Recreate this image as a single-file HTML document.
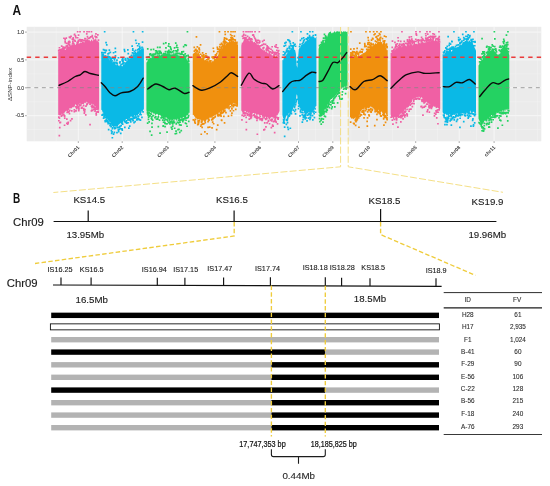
<!DOCTYPE html>
<html><head><meta charset="utf-8"><title>Figure</title>
<style>
html,body{margin:0;padding:0;background:#fff;}
svg{display:block;font-family:"Liberation Sans",sans-serif;}
</style></head><body>
<svg width="550" height="486" viewBox="0 0 550 486">
<rect width="550" height="486" fill="#fff"/>
<text x="12.6" y="14.9" font-size="14" font-weight="bold" fill="#111" textLength="8.6" lengthAdjust="spacingAndGlyphs">A</text>
<rect x="26.7" y="26.8" width="514.6" height="114.5" fill="#ebebeb"/>
<path d="M26.7 32.1H541.3 M26.7 59.9H541.3 M26.7 87.8H541.3 M26.7 115.7H541.3" stroke="#fff" stroke-width="0.6" fill="none"/>
<path d="M26.7 46.0H541.3 M26.7 73.9H541.3 M26.7 101.7H541.3 M26.7 129.6H541.3" stroke="#f6f6f6" stroke-width="0.35" fill="none"/>
<path d="M78.3 26.8V141.3 M122.2 26.8V141.3 M167.8 26.8V141.3 M214.9 26.8V141.3 M259.9 26.8V141.3 M298.5 26.8V141.3 M332.8 26.8V141.3 M369 26.8V141.3 M415.7 26.8V141.3 M459.2 26.8V141.3 M494.1 26.8V141.3" stroke="#fff" stroke-width="0.6" fill="none"/>
<path d="M100.2 26.8V141.3 M145.0 26.8V141.3 M191.4 26.8V141.3 M237.4 26.8V141.3 M279.2 26.8V141.3 M315.6 26.8V141.3 M350.9 26.8V141.3 M392.4 26.8V141.3 M437.4 26.8V141.3 M476.6 26.8V141.3 M56.3 26.8V141.3 M34.3 26.8V141.3 M515.8 26.8V141.3 M537.5 26.8V141.3" stroke="#f7f7f7" stroke-width="0.35" fill="none"/>
<rect x="341" y="27" width="7.2" height="114.3" fill="#fff" opacity="0.45"/>
<path d="M58.2 50.8 L58.9 51.7 L59.6 51.1 L60.3 49.4 L61.0 49.2 L61.7 49.1 L62.4 49.9 L63.1 48.5 L63.8 49.7 L64.5 49.1 L65.3 50.0 L66.0 49.2 L66.7 46.5 L67.4 46.6 L68.1 45.8 L68.8 47.0 L69.5 46.3 L70.2 44.4 L70.9 46.0 L71.6 44.5 L72.3 44.6 L73.0 45.3 L73.7 43.3 L74.4 44.0 L75.1 44.4 L75.8 45.0 L76.5 43.0 L77.2 41.9 L77.9 41.3 L78.7 43.4 L79.4 43.5 L80.1 42.8 L80.8 42.4 L81.5 43.1 L82.2 41.8 L82.9 40.3 L83.6 42.1 L84.3 42.5 L85.0 41.0 L85.7 39.8 L86.4 40.1 L87.1 39.6 L87.8 39.7 L88.5 40.5 L89.2 39.4 L89.9 40.7 L90.6 41.5 L91.3 39.6 L92.0 39.7 L92.8 41.5 L93.5 38.9 L94.2 38.9 L94.9 39.9 L95.6 37.9 L96.3 39.2 L97.0 41.5 L97.7 40.6 L98.4 41.6 L99.1 42.7 L99.1 112.5 L98.4 109.4 L97.7 110.3 L97.0 109.7 L96.3 108.4 L95.6 107.1 L94.9 105.7 L94.2 105.9 L93.5 104.6 L92.8 103.8 L92.0 105.6 L91.3 103.6 L90.6 104.7 L89.9 104.6 L89.2 103.0 L88.5 104.2 L87.8 102.0 L87.1 103.5 L86.4 101.5 L85.7 102.7 L85.0 103.5 L84.3 102.4 L83.6 104.7 L82.9 103.9 L82.2 103.9 L81.5 104.9 L80.8 103.5 L80.1 104.2 L79.4 103.6 L78.7 104.6 L77.9 105.2 L77.2 104.8 L76.5 105.9 L75.8 104.1 L75.1 104.9 L74.4 107.2 L73.7 106.8 L73.0 107.7 L72.3 107.0 L71.6 108.4 L70.9 108.4 L70.2 108.3 L69.5 108.3 L68.8 109.9 L68.1 111.1 L67.4 112.3 L66.7 110.6 L66.0 111.6 L65.3 111.2 L64.5 112.7 L63.8 114.9 L63.1 113.0 L62.4 115.4 L61.7 113.4 L61.0 114.9 L60.3 115.5 L59.6 115.4 L58.9 114.8 L58.2 115.4Z" fill="#f060a4"/>
<path d="M92.7 106.6h1.7v1.7h-1.7zM73.8 39.6h1.7v1.7h-1.7zM60.3 48.7h1.7v1.7h-1.7zM64.3 47.1h1.7v1.7h-1.7zM57.9 49.7h1.7v1.7h-1.7zM72.4 36.9h1.7v1.7h-1.7zM82.4 39.6h1.7v1.7h-1.7zM71.7 43.0h1.7v1.7h-1.7zM91.7 106.2h1.7v1.7h-1.7zM77.2 41.2h1.7v1.7h-1.7zM71.5 38.2h1.7v1.7h-1.7zM64.3 38.2h1.7v1.7h-1.7zM78.9 38.7h1.7v1.7h-1.7zM58.9 126.8h1.7v1.7h-1.7zM92.3 105.7h1.7v1.7h-1.7zM72.5 38.6h1.7v1.7h-1.7zM79.1 104.7h1.7v1.7h-1.7zM66.7 123.3h1.7v1.7h-1.7zM91.9 109.6h1.7v1.7h-1.7zM87.4 37.4h1.7v1.7h-1.7zM72.0 43.1h1.7v1.7h-1.7zM69.0 41.2h1.7v1.7h-1.7zM97.3 111.4h1.7v1.7h-1.7zM66.6 45.2h1.7v1.7h-1.7zM66.0 118.2h1.7v1.7h-1.7zM91.4 35.7h1.7v1.7h-1.7zM89.8 36.0h1.7v1.7h-1.7zM94.2 110.3h1.7v1.7h-1.7zM76.9 36.9h1.7v1.7h-1.7zM71.1 118.1h1.7v1.7h-1.7zM73.6 33.9h1.7v1.7h-1.7zM86.8 39.3h1.7v1.7h-1.7zM63.9 117.4h1.7v1.7h-1.7zM63.7 124.4h1.7v1.7h-1.7zM84.1 37.8h1.7v1.7h-1.7zM63.1 37.4h1.7v1.7h-1.7zM83.8 110.7h1.7v1.7h-1.7zM75.2 110.1h1.7v1.7h-1.7zM66.3 45.0h1.7v1.7h-1.7zM67.4 111.1h1.7v1.7h-1.7zM74.6 35.1h1.7v1.7h-1.7zM72.0 40.6h1.7v1.7h-1.7zM77.9 106.1h1.7v1.7h-1.7zM58.6 49.2h1.7v1.7h-1.7zM58.0 116.3h1.7v1.7h-1.7zM76.7 106.7h1.7v1.7h-1.7zM70.9 110.1h1.7v1.7h-1.7zM89.1 36.9h1.7v1.7h-1.7zM67.8 40.9h1.7v1.7h-1.7zM78.1 108.1h1.7v1.7h-1.7zM94.3 35.5h1.7v1.7h-1.7zM78.0 107.4h1.7v1.7h-1.7zM75.9 106.5h1.7v1.7h-1.7zM95.4 114.0h1.7v1.7h-1.7zM95.4 35.9h1.7v1.7h-1.7zM95.5 108.3h1.7v1.7h-1.7zM62.7 48.0h1.7v1.7h-1.7zM67.5 42.2h1.7v1.7h-1.7zM89.1 103.4h1.7v1.7h-1.7zM86.4 102.7h1.7v1.7h-1.7zM93.1 106.1h1.7v1.7h-1.7zM95.9 36.6h1.7v1.7h-1.7zM97.3 110.7h1.7v1.7h-1.7zM75.1 106.1h1.7v1.7h-1.7zM65.7 42.6h1.7v1.7h-1.7zM58.6 117.2h1.7v1.7h-1.7zM58.6 46.9h1.7v1.7h-1.7zM89.3 103.3h1.7v1.7h-1.7zM68.4 40.5h1.7v1.7h-1.7zM68.6 43.3h1.7v1.7h-1.7zM94.2 107.1h1.7v1.7h-1.7zM63.8 115.1h1.7v1.7h-1.7zM85.8 39.7h1.7v1.7h-1.7zM85.3 39.7h1.7v1.7h-1.7zM95.3 112.4h1.7v1.7h-1.7zM61.2 114.3h1.7v1.7h-1.7zM92.3 37.5h1.7v1.7h-1.7zM79.9 104.2h1.7v1.7h-1.7zM63.0 113.9h1.7v1.7h-1.7zM62.2 48.4h1.7v1.7h-1.7zM65.9 45.2h1.7v1.7h-1.7zM88.2 37.4h1.7v1.7h-1.7zM64.9 46.8h1.7v1.7h-1.7zM67.8 41.3h1.7v1.7h-1.7zM79.8 38.9h1.7v1.7h-1.7zM95.1 33.0h1.7v1.7h-1.7zM75.1 36.8h1.7v1.7h-1.7zM73.5 109.1h1.7v1.7h-1.7zM97.0 34.1h1.7v1.7h-1.7zM86.0 103.7h1.7v1.7h-1.7zM71.7 42.9h1.7v1.7h-1.7zM60.7 115.3h1.7v1.7h-1.7zM64.4 41.7h1.7v1.7h-1.7zM92.6 106.0h1.7v1.7h-1.7zM67.5 43.6h1.7v1.7h-1.7zM64.1 46.4h1.7v1.7h-1.7zM96.2 111.1h1.7v1.7h-1.7zM67.6 111.2h1.7v1.7h-1.7zM72.1 41.7h1.7v1.7h-1.7zM76.8 104.9h1.7v1.7h-1.7zM78.0 40.3h1.7v1.7h-1.7zM61.4 48.9h1.7v1.7h-1.7zM58.7 49.0h1.7v1.7h-1.7zM81.2 107.1h1.7v1.7h-1.7zM84.1 108.8h1.7v1.7h-1.7zM63.8 115.6h1.7v1.7h-1.7zM59.6 121.6h1.7v1.7h-1.7zM82.9 107.7h1.7v1.7h-1.7zM63.4 114.9h1.7v1.7h-1.7zM91.2 109.2h1.7v1.7h-1.7zM81.2 106.4h1.7v1.7h-1.7zM85.5 39.8h1.7v1.7h-1.7zM63.2 47.6h1.7v1.7h-1.7zM91.2 106.9h1.7v1.7h-1.7zM82.8 104.7h1.7v1.7h-1.7zM58.0 119.9h1.7v1.7h-1.7zM77.9 107.1h1.7v1.7h-1.7zM60.5 115.4h1.7v1.7h-1.7zM60.8 45.3h1.7v1.7h-1.7zM66.0 122.4h1.7v1.7h-1.7zM77.6 39.4h1.7v1.7h-1.7zM85.1 105.2h1.7v1.7h-1.7zM83.5 39.8h1.7v1.7h-1.7zM68.0 110.9h1.7v1.7h-1.7zM80.5 40.6h1.7v1.7h-1.7zM68.6 112.9h1.7v1.7h-1.7zM84.8 37.9h1.7v1.7h-1.7zM76.4 41.4h1.7v1.7h-1.7zM95.2 36.3h1.7v1.7h-1.7zM90.6 105.3h1.7v1.7h-1.7zM68.6 36.2h1.7v1.7h-1.7zM66.3 111.5h1.7v1.7h-1.7zM78.8 104.0h1.7v1.7h-1.7zM90.6 110.0h1.7v1.7h-1.7zM85.9 33.0h1.7v1.7h-1.7zM77.2 41.4h1.7v1.7h-1.7zM77.5 40.3h1.7v1.7h-1.7zM63.5 46.6h1.7v1.7h-1.7zM91.4 34.7h1.7v1.7h-1.7zM86.3 103.2h1.7v1.7h-1.7zM81.4 38.9h1.7v1.7h-1.7zM68.8 44.5h1.7v1.7h-1.7zM67.8 43.2h1.7v1.7h-1.7zM65.4 37.2h1.7v1.7h-1.7zM93.1 108.4h1.7v1.7h-1.7zM94.3 108.7h1.7v1.7h-1.7zM86.6 35.8h1.7v1.7h-1.7zM75.8 107.7h1.7v1.7h-1.7zM69.3 36.7h1.7v1.7h-1.7zM62.9 46.8h1.7v1.7h-1.7zM69.7 119.7h1.7v1.7h-1.7zM68.2 110.7h1.7v1.7h-1.7zM80.1 40.3h1.7v1.7h-1.7zM64.3 40.2h1.7v1.7h-1.7zM77.7 34.2h1.7v1.7h-1.7zM97.6 39.3h1.7v1.7h-1.7zM65.5 45.3h1.7v1.7h-1.7zM61.5 48.1h1.7v1.7h-1.7zM80.6 107.2h1.7v1.7h-1.7zM74.3 40.2h1.7v1.7h-1.7zM72.9 42.7h1.7v1.7h-1.7zM68.9 109.5h1.7v1.7h-1.7zM77.9 109.8h1.7v1.7h-1.7zM66.5 45.1h1.7v1.7h-1.7zM73.8 33.4h1.7v1.7h-1.7zM91.7 104.4h1.7v1.7h-1.7zM59.1 121.9h1.7v1.7h-1.7zM76.7 104.3h1.7v1.7h-1.7zM73.5 110.9h1.7v1.7h-1.7zM92.0 105.4h1.7v1.7h-1.7zM62.2 46.3h1.7v1.7h-1.7zM84.9 114.1h1.7v1.7h-1.7zM83.5 112.2h1.7v1.7h-1.7zM67.4 121.4h1.7v1.7h-1.7zM70.2 35.6h1.7v1.7h-1.7zM83.1 109.6h1.7v1.7h-1.7zM76.8 30.9h1.7v1.7h-1.7zM79.2 30.9h1.7v1.7h-1.7zM83.2 30.9h1.7v1.7h-1.7zM86.2 30.9h1.7v1.7h-1.7zM88.2 30.9h1.7v1.7h-1.7zM90.6 30.9h1.7v1.7h-1.7z" fill="#f060a4"/>
<path d="M101.3 52.0 L102.0 53.9 L102.7 53.1 L103.4 52.7 L104.1 54.4 L104.8 55.4 L105.6 55.1 L106.3 54.9 L107.0 57.0 L107.7 55.6 L108.4 58.4 L109.1 57.7 L109.8 60.6 L110.5 58.4 L111.2 60.4 L112.0 60.4 L112.7 62.6 L113.4 61.3 L114.1 62.0 L114.8 62.2 L115.5 64.3 L116.2 65.4 L116.9 63.4 L117.6 64.3 L118.3 66.2 L119.0 64.6 L119.8 66.6 L120.5 63.8 L121.2 65.0 L121.9 66.2 L122.6 66.2 L123.3 63.7 L124.0 65.3 L124.7 62.0 L125.4 62.6 L126.2 61.7 L126.9 59.9 L127.6 60.4 L128.3 58.9 L129.0 58.5 L129.7 59.7 L130.4 57.8 L131.1 57.2 L131.8 57.9 L132.5 55.4 L133.2 53.6 L134.0 55.4 L134.7 52.3 L135.4 51.7 L136.1 51.8 L136.8 53.2 L137.5 50.7 L138.2 51.2 L138.9 50.9 L139.6 49.0 L140.3 50.0 L141.1 49.2 L141.8 46.9 L142.5 47.9 L143.2 49.0 L143.9 46.6 L143.9 109.4 L143.2 109.6 L142.5 112.2 L141.8 110.7 L141.1 113.7 L140.3 114.4 L139.6 112.3 L138.9 114.0 L138.2 114.1 L137.5 116.6 L136.8 114.9 L136.1 116.5 L135.4 117.3 L134.7 114.7 L134.0 117.3 L133.2 116.5 L132.5 118.3 L131.8 116.3 L131.1 117.1 L130.4 116.5 L129.7 119.3 L129.0 118.1 L128.3 120.4 L127.6 120.8 L126.9 119.0 L126.2 119.0 L125.4 120.0 L124.7 121.3 L124.0 121.9 L123.3 120.4 L122.6 123.4 L121.9 123.5 L121.2 124.7 L120.5 122.7 L119.8 123.7 L119.0 124.6 L118.3 124.9 L117.6 127.0 L116.9 126.1 L116.2 127.4 L115.5 126.6 L114.8 125.9 L114.1 127.3 L113.4 127.4 L112.7 125.3 L112.0 125.5 L111.2 124.4 L110.5 122.6 L109.8 121.5 L109.1 122.2 L108.4 120.6 L107.7 120.0 L107.0 118.5 L106.3 119.7 L105.6 116.5 L104.8 117.5 L104.1 116.3 L103.4 112.8 L102.7 112.4 L102.0 110.3 L101.3 109.7Z" fill="#0ab9e6"/>
<path d="M121.5 122.4h1.7v1.7h-1.7zM134.3 120.8h1.7v1.7h-1.7zM133.1 117.2h1.7v1.7h-1.7zM114.2 57.4h1.7v1.7h-1.7zM104.2 49.6h1.7v1.7h-1.7zM111.2 60.1h1.7v1.7h-1.7zM123.9 50.5h1.7v1.7h-1.7zM137.7 115.2h1.7v1.7h-1.7zM104.4 51.8h1.7v1.7h-1.7zM130.5 55.0h1.7v1.7h-1.7zM118.3 128.4h1.7v1.7h-1.7zM132.1 119.7h1.7v1.7h-1.7zM106.0 119.5h1.7v1.7h-1.7zM124.5 57.7h1.7v1.7h-1.7zM109.2 57.4h1.7v1.7h-1.7zM107.3 122.7h1.7v1.7h-1.7zM114.5 47.5h1.7v1.7h-1.7zM122.1 58.2h1.7v1.7h-1.7zM128.1 118.5h1.7v1.7h-1.7zM120.7 128.1h1.7v1.7h-1.7zM139.0 47.2h1.7v1.7h-1.7zM105.9 44.1h1.7v1.7h-1.7zM125.2 121.0h1.7v1.7h-1.7zM137.0 49.0h1.7v1.7h-1.7zM133.3 116.3h1.7v1.7h-1.7zM125.7 120.1h1.7v1.7h-1.7zM116.3 62.5h1.7v1.7h-1.7zM111.6 127.7h1.7v1.7h-1.7zM109.4 57.2h1.7v1.7h-1.7zM129.2 56.0h1.7v1.7h-1.7zM109.4 124.8h1.7v1.7h-1.7zM103.6 51.9h1.7v1.7h-1.7zM123.8 120.6h1.7v1.7h-1.7zM107.8 122.2h1.7v1.7h-1.7zM112.7 51.9h1.7v1.7h-1.7zM113.9 127.7h1.7v1.7h-1.7zM116.1 59.2h1.7v1.7h-1.7zM109.4 51.5h1.7v1.7h-1.7zM118.6 126.3h1.7v1.7h-1.7zM137.7 48.8h1.7v1.7h-1.7zM101.6 114.1h1.7v1.7h-1.7zM138.8 45.5h1.7v1.7h-1.7zM116.4 126.8h1.7v1.7h-1.7zM112.7 133.3h1.7v1.7h-1.7zM105.5 49.6h1.7v1.7h-1.7zM141.2 46.6h1.7v1.7h-1.7zM140.2 113.9h1.7v1.7h-1.7zM103.2 115.7h1.7v1.7h-1.7zM138.6 118.9h1.7v1.7h-1.7zM107.6 121.2h1.7v1.7h-1.7zM117.8 130.7h1.7v1.7h-1.7zM108.6 56.0h1.7v1.7h-1.7zM122.5 62.6h1.7v1.7h-1.7zM111.2 131.1h1.7v1.7h-1.7zM102.7 117.4h1.7v1.7h-1.7zM102.5 113.3h1.7v1.7h-1.7zM125.9 122.2h1.7v1.7h-1.7zM113.7 59.1h1.7v1.7h-1.7zM118.7 126.4h1.7v1.7h-1.7zM119.2 61.0h1.7v1.7h-1.7zM121.3 59.2h1.7v1.7h-1.7zM133.4 52.3h1.7v1.7h-1.7zM120.6 63.5h1.7v1.7h-1.7zM118.9 62.1h1.7v1.7h-1.7zM122.2 60.1h1.7v1.7h-1.7zM104.4 120.9h1.7v1.7h-1.7zM122.2 61.0h1.7v1.7h-1.7zM116.7 126.6h1.7v1.7h-1.7zM136.6 118.7h1.7v1.7h-1.7zM134.9 39.6h1.7v1.7h-1.7zM121.4 129.3h1.7v1.7h-1.7zM107.8 128.7h1.7v1.7h-1.7zM103.7 49.3h1.7v1.7h-1.7zM107.6 121.4h1.7v1.7h-1.7zM134.9 49.5h1.7v1.7h-1.7zM139.2 47.2h1.7v1.7h-1.7zM122.0 63.1h1.7v1.7h-1.7zM108.5 49.3h1.7v1.7h-1.7zM129.2 118.2h1.7v1.7h-1.7zM133.6 50.4h1.7v1.7h-1.7zM127.4 52.7h1.7v1.7h-1.7zM124.0 126.6h1.7v1.7h-1.7zM105.3 120.6h1.7v1.7h-1.7zM117.4 126.6h1.7v1.7h-1.7zM142.2 111.0h1.7v1.7h-1.7zM132.8 53.0h1.7v1.7h-1.7zM131.9 49.3h1.7v1.7h-1.7zM111.5 136.9h1.7v1.7h-1.7zM125.3 120.7h1.7v1.7h-1.7zM101.0 51.8h1.7v1.7h-1.7zM126.6 57.6h1.7v1.7h-1.7zM138.2 48.1h1.7v1.7h-1.7zM128.1 58.2h1.7v1.7h-1.7zM115.7 61.6h1.7v1.7h-1.7zM110.3 125.9h1.7v1.7h-1.7zM109.4 124.4h1.7v1.7h-1.7zM106.6 120.0h1.7v1.7h-1.7zM107.2 53.1h1.7v1.7h-1.7zM137.2 116.1h1.7v1.7h-1.7zM111.9 57.5h1.7v1.7h-1.7zM124.3 58.8h1.7v1.7h-1.7zM119.4 127.9h1.7v1.7h-1.7zM111.3 124.4h1.7v1.7h-1.7zM123.1 61.9h1.7v1.7h-1.7zM103.4 114.6h1.7v1.7h-1.7zM123.9 120.8h1.7v1.7h-1.7zM109.2 124.4h1.7v1.7h-1.7zM127.6 119.0h1.7v1.7h-1.7zM113.8 61.6h1.7v1.7h-1.7zM137.9 118.0h1.7v1.7h-1.7zM101.2 114.4h1.7v1.7h-1.7zM120.3 124.8h1.7v1.7h-1.7zM110.3 58.6h1.7v1.7h-1.7zM102.6 48.8h1.7v1.7h-1.7zM129.9 121.0h1.7v1.7h-1.7zM112.0 126.7h1.7v1.7h-1.7zM133.7 116.7h1.7v1.7h-1.7zM127.7 119.1h1.7v1.7h-1.7zM137.6 48.5h1.7v1.7h-1.7zM110.8 132.5h1.7v1.7h-1.7zM132.0 47.9h1.7v1.7h-1.7zM114.6 55.1h1.7v1.7h-1.7zM127.2 121.9h1.7v1.7h-1.7zM141.7 41.2h1.7v1.7h-1.7zM130.0 119.0h1.7v1.7h-1.7zM131.1 117.9h1.7v1.7h-1.7zM109.8 123.0h1.7v1.7h-1.7zM138.8 48.3h1.7v1.7h-1.7zM105.4 119.0h1.7v1.7h-1.7zM106.9 55.7h1.7v1.7h-1.7zM129.8 120.9h1.7v1.7h-1.7zM131.6 52.0h1.7v1.7h-1.7zM116.1 131.7h1.7v1.7h-1.7zM138.0 43.0h1.7v1.7h-1.7zM139.0 113.6h1.7v1.7h-1.7zM109.5 58.4h1.7v1.7h-1.7zM136.2 117.9h1.7v1.7h-1.7zM135.3 116.2h1.7v1.7h-1.7zM105.1 49.9h1.7v1.7h-1.7zM109.5 56.8h1.7v1.7h-1.7zM101.8 51.7h1.7v1.7h-1.7zM130.7 54.4h1.7v1.7h-1.7zM141.1 116.6h1.7v1.7h-1.7zM126.7 58.0h1.7v1.7h-1.7zM119.1 125.5h1.7v1.7h-1.7zM130.3 117.8h1.7v1.7h-1.7zM136.8 44.9h1.7v1.7h-1.7zM108.0 56.4h1.7v1.7h-1.7zM132.7 116.2h1.7v1.7h-1.7zM121.4 58.8h1.7v1.7h-1.7zM108.6 56.3h1.7v1.7h-1.7zM135.6 42.4h1.7v1.7h-1.7zM112.8 57.5h1.7v1.7h-1.7zM121.7 60.3h1.7v1.7h-1.7zM104.3 119.9h1.7v1.7h-1.7zM133.7 117.1h1.7v1.7h-1.7zM117.6 56.9h1.7v1.7h-1.7zM104.5 116.7h1.7v1.7h-1.7zM109.5 51.6h1.7v1.7h-1.7zM121.8 56.9h1.7v1.7h-1.7zM110.7 57.4h1.7v1.7h-1.7zM132.3 119.4h1.7v1.7h-1.7zM115.4 62.2h1.7v1.7h-1.7zM136.0 119.0h1.7v1.7h-1.7zM108.0 52.5h1.7v1.7h-1.7zM125.0 59.4h1.7v1.7h-1.7zM137.8 48.6h1.7v1.7h-1.7zM113.5 131.6h1.7v1.7h-1.7zM107.4 55.5h1.7v1.7h-1.7zM114.5 127.3h1.7v1.7h-1.7zM114.6 51.1h1.7v1.7h-1.7zM131.3 45.2h1.7v1.7h-1.7zM105.2 41.8h1.7v1.7h-1.7zM134.0 117.4h1.7v1.7h-1.7zM109.1 122.5h1.7v1.7h-1.7zM109.5 58.4h1.7v1.7h-1.7zM117.5 129.1h1.7v1.7h-1.7zM121.8 123.4h1.7v1.7h-1.7zM106.8 121.1h1.7v1.7h-1.7zM131.8 118.2h1.7v1.7h-1.7zM124.8 121.5h1.7v1.7h-1.7zM110.5 129.8h1.7v1.7h-1.7zM133.2 121.8h1.7v1.7h-1.7zM129.2 119.4h1.7v1.7h-1.7zM114.0 126.7h1.7v1.7h-1.7zM118.4 128.6h1.7v1.7h-1.7zM127.0 49.1h1.7v1.7h-1.7zM119.9 132.6h1.7v1.7h-1.7zM128.9 125.3h1.7v1.7h-1.7zM128.0 127.3h1.7v1.7h-1.7zM121.3 128.3h1.7v1.7h-1.7zM123.5 48.7h1.7v1.7h-1.7zM139.6 119.3h1.7v1.7h-1.7zM103.8 30.9h1.7v1.7h-1.7zM132.6 30.9h1.7v1.7h-1.7zM141.8 30.9h1.7v1.7h-1.7z" fill="#0ab9e6"/>
<path d="M146.4 62.6 L147.1 61.9 L147.8 60.2 L148.5 58.4 L149.2 58.8 L149.9 57.7 L150.6 57.7 L151.4 58.2 L152.1 55.0 L152.8 55.8 L153.5 55.6 L154.2 56.3 L154.9 54.7 L155.6 56.1 L156.3 55.2 L157.0 56.0 L157.7 53.9 L158.4 55.6 L159.1 55.0 L159.9 54.6 L160.6 55.8 L161.3 54.6 L162.0 55.0 L162.7 53.2 L163.4 52.5 L164.1 53.1 L164.8 52.7 L165.5 52.6 L166.2 52.4 L166.9 54.1 L167.6 52.6 L168.4 53.3 L169.1 53.8 L169.8 53.0 L170.5 54.5 L171.2 54.4 L171.9 54.3 L172.6 54.5 L173.3 51.8 L174.0 54.8 L174.7 52.6 L175.4 52.4 L176.1 54.6 L176.9 52.8 L177.6 55.0 L178.3 55.5 L179.0 55.3 L179.7 55.8 L180.4 55.8 L181.1 55.5 L181.8 55.9 L182.5 56.5 L183.2 54.8 L183.9 54.9 L184.6 55.2 L185.4 56.0 L186.1 57.7 L186.8 59.4 L187.5 60.4 L188.2 61.0 L188.9 63.3 L189.6 63.1 L189.6 113.1 L188.9 112.4 L188.2 114.8 L187.5 115.5 L186.8 115.1 L186.1 117.0 L185.4 117.0 L184.6 117.2 L183.9 117.5 L183.2 116.8 L182.5 118.1 L181.8 117.9 L181.1 118.4 L180.4 117.5 L179.7 119.6 L179.0 119.5 L178.3 119.6 L177.6 118.5 L176.9 121.2 L176.1 119.7 L175.4 119.6 L174.7 119.3 L174.0 121.1 L173.3 119.0 L172.6 121.0 L171.9 119.4 L171.2 121.9 L170.5 119.2 L169.8 121.9 L169.1 120.6 L168.4 119.5 L167.6 118.8 L166.9 118.4 L166.2 117.1 L165.5 118.1 L164.8 117.6 L164.1 118.8 L163.4 118.4 L162.7 117.1 L162.0 116.5 L161.3 117.3 L160.6 115.4 L159.9 114.7 L159.1 115.3 L158.4 116.2 L157.7 113.8 L157.0 114.5 L156.3 113.8 L155.6 115.9 L154.9 113.4 L154.2 113.7 L153.5 113.7 L152.8 112.2 L152.1 112.9 L151.4 112.8 L150.6 111.7 L149.9 112.1 L149.2 111.2 L148.5 111.4 L147.8 112.4 L147.1 111.0 L146.4 110.7Z" fill="#24d262"/>
<path d="M149.2 115.1h1.7v1.7h-1.7zM147.3 114.5h1.7v1.7h-1.7zM185.4 44.6h1.7v1.7h-1.7zM167.6 45.3h1.7v1.7h-1.7zM147.5 114.1h1.7v1.7h-1.7zM160.3 117.1h1.7v1.7h-1.7zM166.1 123.0h1.7v1.7h-1.7zM154.9 52.3h1.7v1.7h-1.7zM169.4 121.2h1.7v1.7h-1.7zM181.0 51.8h1.7v1.7h-1.7zM157.5 125.8h1.7v1.7h-1.7zM173.7 121.4h1.7v1.7h-1.7zM159.4 50.4h1.7v1.7h-1.7zM172.8 120.3h1.7v1.7h-1.7zM176.5 121.6h1.7v1.7h-1.7zM148.1 56.1h1.7v1.7h-1.7zM154.1 116.7h1.7v1.7h-1.7zM173.8 127.4h1.7v1.7h-1.7zM171.9 123.1h1.7v1.7h-1.7zM175.4 123.1h1.7v1.7h-1.7zM155.0 116.0h1.7v1.7h-1.7zM178.2 52.6h1.7v1.7h-1.7zM147.6 118.6h1.7v1.7h-1.7zM173.7 47.0h1.7v1.7h-1.7zM179.2 119.0h1.7v1.7h-1.7zM158.8 52.1h1.7v1.7h-1.7zM164.2 125.8h1.7v1.7h-1.7zM148.4 111.7h1.7v1.7h-1.7zM151.1 115.7h1.7v1.7h-1.7zM184.8 56.1h1.7v1.7h-1.7zM162.4 125.1h1.7v1.7h-1.7zM187.4 58.1h1.7v1.7h-1.7zM150.4 113.4h1.7v1.7h-1.7zM152.5 54.7h1.7v1.7h-1.7zM174.9 42.2h1.7v1.7h-1.7zM149.8 112.8h1.7v1.7h-1.7zM146.8 111.6h1.7v1.7h-1.7zM177.0 52.7h1.7v1.7h-1.7zM178.7 124.1h1.7v1.7h-1.7zM176.8 49.9h1.7v1.7h-1.7zM176.0 44.5h1.7v1.7h-1.7zM156.8 118.3h1.7v1.7h-1.7zM146.5 56.2h1.7v1.7h-1.7zM180.5 52.6h1.7v1.7h-1.7zM176.8 46.9h1.7v1.7h-1.7zM166.6 50.8h1.7v1.7h-1.7zM170.3 48.8h1.7v1.7h-1.7zM152.2 114.8h1.7v1.7h-1.7zM173.3 121.8h1.7v1.7h-1.7zM162.3 125.4h1.7v1.7h-1.7zM179.2 119.2h1.7v1.7h-1.7zM148.6 115.4h1.7v1.7h-1.7zM181.0 51.1h1.7v1.7h-1.7zM187.3 116.6h1.7v1.7h-1.7zM159.1 46.6h1.7v1.7h-1.7zM161.9 119.3h1.7v1.7h-1.7zM183.9 117.8h1.7v1.7h-1.7zM146.1 58.6h1.7v1.7h-1.7zM170.8 126.7h1.7v1.7h-1.7zM147.8 116.4h1.7v1.7h-1.7zM182.6 118.1h1.7v1.7h-1.7zM182.0 120.8h1.7v1.7h-1.7zM184.6 55.7h1.7v1.7h-1.7zM169.4 120.8h1.7v1.7h-1.7zM177.7 119.5h1.7v1.7h-1.7zM171.7 122.0h1.7v1.7h-1.7zM154.8 49.9h1.7v1.7h-1.7zM179.5 53.2h1.7v1.7h-1.7zM180.1 118.7h1.7v1.7h-1.7zM170.5 126.6h1.7v1.7h-1.7zM168.1 49.5h1.7v1.7h-1.7zM154.0 53.6h1.7v1.7h-1.7zM175.6 50.0h1.7v1.7h-1.7zM163.0 117.6h1.7v1.7h-1.7zM147.9 112.8h1.7v1.7h-1.7zM150.5 117.5h1.7v1.7h-1.7zM152.6 114.8h1.7v1.7h-1.7zM168.0 52.0h1.7v1.7h-1.7zM187.8 114.8h1.7v1.7h-1.7zM170.0 47.6h1.7v1.7h-1.7zM164.0 122.0h1.7v1.7h-1.7zM180.6 118.6h1.7v1.7h-1.7zM147.6 56.6h1.7v1.7h-1.7zM149.6 53.2h1.7v1.7h-1.7zM182.8 45.8h1.7v1.7h-1.7zM184.4 53.1h1.7v1.7h-1.7zM162.8 42.8h1.7v1.7h-1.7zM156.9 117.7h1.7v1.7h-1.7zM186.4 117.1h1.7v1.7h-1.7zM165.0 42.0h1.7v1.7h-1.7zM187.9 60.5h1.7v1.7h-1.7zM156.8 46.6h1.7v1.7h-1.7zM184.2 116.8h1.7v1.7h-1.7zM179.2 121.2h1.7v1.7h-1.7zM187.6 59.7h1.7v1.7h-1.7zM177.9 122.0h1.7v1.7h-1.7zM158.7 119.3h1.7v1.7h-1.7zM150.5 54.5h1.7v1.7h-1.7zM151.3 54.5h1.7v1.7h-1.7zM156.1 50.4h1.7v1.7h-1.7zM146.6 111.3h1.7v1.7h-1.7zM147.6 111.9h1.7v1.7h-1.7zM185.5 122.9h1.7v1.7h-1.7zM151.9 54.6h1.7v1.7h-1.7zM185.2 119.4h1.7v1.7h-1.7zM165.1 47.0h1.7v1.7h-1.7zM166.2 119.1h1.7v1.7h-1.7zM155.4 50.1h1.7v1.7h-1.7zM169.4 46.0h1.7v1.7h-1.7zM157.3 53.0h1.7v1.7h-1.7zM157.5 116.0h1.7v1.7h-1.7zM153.1 53.3h1.7v1.7h-1.7zM184.2 44.1h1.7v1.7h-1.7zM148.4 115.0h1.7v1.7h-1.7zM155.0 53.0h1.7v1.7h-1.7zM156.9 52.2h1.7v1.7h-1.7zM187.9 120.5h1.7v1.7h-1.7zM150.2 48.7h1.7v1.7h-1.7zM148.5 112.7h1.7v1.7h-1.7zM187.3 54.6h1.7v1.7h-1.7zM160.4 52.9h1.7v1.7h-1.7zM181.2 118.2h1.7v1.7h-1.7zM164.4 118.5h1.7v1.7h-1.7zM170.2 51.6h1.7v1.7h-1.7zM178.6 119.0h1.7v1.7h-1.7zM149.4 52.9h1.7v1.7h-1.7zM167.0 51.5h1.7v1.7h-1.7zM171.9 125.2h1.7v1.7h-1.7zM170.6 51.9h1.7v1.7h-1.7zM177.0 49.0h1.7v1.7h-1.7zM148.4 112.9h1.7v1.7h-1.7zM181.6 119.5h1.7v1.7h-1.7zM146.7 112.7h1.7v1.7h-1.7zM182.8 54.1h1.7v1.7h-1.7zM181.1 53.4h1.7v1.7h-1.7zM161.7 116.4h1.7v1.7h-1.7zM168.0 50.0h1.7v1.7h-1.7zM151.1 118.2h1.7v1.7h-1.7zM182.6 50.7h1.7v1.7h-1.7zM162.1 116.8h1.7v1.7h-1.7zM182.9 119.1h1.7v1.7h-1.7zM167.7 121.7h1.7v1.7h-1.7zM146.9 111.6h1.7v1.7h-1.7zM153.7 53.4h1.7v1.7h-1.7zM180.5 53.4h1.7v1.7h-1.7zM175.5 52.4h1.7v1.7h-1.7zM171.3 122.4h1.7v1.7h-1.7zM175.7 46.4h1.7v1.7h-1.7zM176.3 52.3h1.7v1.7h-1.7zM166.9 120.0h1.7v1.7h-1.7zM151.2 54.7h1.7v1.7h-1.7zM171.0 120.6h1.7v1.7h-1.7zM170.2 120.7h1.7v1.7h-1.7zM180.9 119.1h1.7v1.7h-1.7zM163.8 119.7h1.7v1.7h-1.7zM162.7 121.4h1.7v1.7h-1.7zM160.3 51.7h1.7v1.7h-1.7zM164.4 122.7h1.7v1.7h-1.7zM184.6 122.2h1.7v1.7h-1.7zM148.3 121.1h1.7v1.7h-1.7zM185.5 55.0h1.7v1.7h-1.7zM172.7 49.9h1.7v1.7h-1.7zM149.0 53.8h1.7v1.7h-1.7zM146.9 48.1h1.7v1.7h-1.7zM178.8 121.3h1.7v1.7h-1.7zM180.2 124.3h1.7v1.7h-1.7zM147.5 112.1h1.7v1.7h-1.7zM174.7 49.9h1.7v1.7h-1.7zM185.1 117.3h1.7v1.7h-1.7zM168.0 43.1h1.7v1.7h-1.7zM158.2 50.2h1.7v1.7h-1.7zM151.1 122.5h1.7v1.7h-1.7zM167.7 50.3h1.7v1.7h-1.7zM168.6 51.8h1.7v1.7h-1.7zM151.6 53.4h1.7v1.7h-1.7zM158.2 53.1h1.7v1.7h-1.7zM169.1 123.0h1.7v1.7h-1.7zM170.1 120.8h1.7v1.7h-1.7zM176.0 50.2h1.7v1.7h-1.7zM171.9 51.0h1.7v1.7h-1.7zM156.3 51.6h1.7v1.7h-1.7zM162.2 116.7h1.7v1.7h-1.7zM160.9 116.9h1.7v1.7h-1.7zM169.5 51.1h1.7v1.7h-1.7zM187.7 55.9h1.7v1.7h-1.7zM152.7 48.5h1.7v1.7h-1.7zM164.6 50.7h1.7v1.7h-1.7zM164.6 118.2h1.7v1.7h-1.7zM155.6 118.3h1.7v1.7h-1.7zM152.6 53.4h1.7v1.7h-1.7zM174.4 132.9h1.7v1.7h-1.7zM180.4 129.7h1.7v1.7h-1.7zM177.2 128.7h1.7v1.7h-1.7zM178.9 131.6h1.7v1.7h-1.7zM151.8 119.3h1.7v1.7h-1.7zM178.1 128.6h1.7v1.7h-1.7zM186.2 125.4h1.7v1.7h-1.7zM186.6 30.9h1.7v1.7h-1.7z" fill="#24d262"/>
<path d="M192.8 54.3 L193.5 53.4 L194.2 52.4 L194.9 52.8 L195.6 51.3 L196.3 51.4 L197.0 53.4 L197.7 53.1 L198.5 52.8 L199.2 53.4 L199.9 55.5 L200.6 57.2 L201.3 57.5 L202.0 58.5 L202.7 57.3 L203.4 56.5 L204.1 58.9 L204.8 60.6 L205.5 59.8 L206.2 60.2 L206.9 61.1 L207.6 60.5 L208.3 60.9 L209.0 62.4 L209.8 61.0 L210.5 61.7 L211.2 61.8 L211.9 62.5 L212.6 60.3 L213.3 61.5 L214.0 59.5 L214.7 57.5 L215.4 59.2 L216.1 56.8 L216.8 57.1 L217.5 56.0 L218.2 55.3 L218.9 51.9 L219.6 52.0 L220.3 49.9 L221.1 50.2 L221.8 48.3 L222.5 48.3 L223.2 46.7 L223.9 45.4 L224.6 43.6 L225.3 45.4 L226.0 43.9 L226.7 43.0 L227.4 41.9 L228.1 42.4 L228.8 42.2 L229.5 40.4 L230.2 42.2 L230.9 39.9 L231.6 41.1 L232.3 41.2 L233.1 39.2 L233.8 41.3 L234.5 41.7 L235.2 40.8 L235.9 41.5 L236.6 43.9 L237.3 44.4 L238.0 44.0 L238.0 106.8 L237.3 104.9 L236.6 104.4 L235.9 105.8 L235.2 103.4 L234.5 103.4 L233.8 103.2 L233.1 102.7 L232.3 105.7 L231.6 106.2 L230.9 104.6 L230.2 104.9 L229.5 105.5 L228.8 106.8 L228.1 109.1 L227.4 108.5 L226.7 108.7 L226.0 108.1 L225.3 109.9 L224.6 109.5 L223.9 111.3 L223.2 111.9 L222.5 109.9 L221.8 113.3 L221.1 112.4 L220.3 111.4 L219.6 112.8 L218.9 112.6 L218.2 113.4 L217.5 115.7 L216.8 115.1 L216.1 113.7 L215.4 116.4 L214.7 115.1 L214.0 117.0 L213.3 115.8 L212.6 117.0 L211.9 116.8 L211.2 118.4 L210.5 117.6 L209.8 117.4 L209.0 118.3 L208.3 120.1 L207.6 119.5 L206.9 119.3 L206.2 120.2 L205.5 122.2 L204.8 121.9 L204.1 121.5 L203.4 119.9 L202.7 122.5 L202.0 120.0 L201.3 121.8 L200.6 119.9 L199.9 118.9 L199.2 120.2 L198.5 119.1 L197.7 119.3 L197.0 120.1 L196.3 117.9 L195.6 118.2 L194.9 116.8 L194.2 116.2 L193.5 114.8 L192.8 115.3Z" fill="#f0900e"/>
<path d="M218.2 114.5h1.7v1.7h-1.7zM219.9 48.9h1.7v1.7h-1.7zM233.6 104.5h1.7v1.7h-1.7zM232.2 104.9h1.7v1.7h-1.7zM219.1 114.2h1.7v1.7h-1.7zM234.4 39.3h1.7v1.7h-1.7zM224.2 42.2h1.7v1.7h-1.7zM231.1 34.9h1.7v1.7h-1.7zM203.2 56.1h1.7v1.7h-1.7zM200.7 121.4h1.7v1.7h-1.7zM217.3 50.7h1.7v1.7h-1.7zM209.5 60.7h1.7v1.7h-1.7zM197.9 120.7h1.7v1.7h-1.7zM203.3 56.5h1.7v1.7h-1.7zM202.9 53.9h1.7v1.7h-1.7zM207.5 56.5h1.7v1.7h-1.7zM196.5 46.1h1.7v1.7h-1.7zM198.1 47.7h1.7v1.7h-1.7zM228.0 39.4h1.7v1.7h-1.7zM224.4 33.6h1.7v1.7h-1.7zM201.6 122.8h1.7v1.7h-1.7zM202.5 56.4h1.7v1.7h-1.7zM223.7 37.1h1.7v1.7h-1.7zM218.4 50.4h1.7v1.7h-1.7zM219.3 43.7h1.7v1.7h-1.7zM197.9 121.7h1.7v1.7h-1.7zM204.4 121.8h1.7v1.7h-1.7zM221.5 112.1h1.7v1.7h-1.7zM209.7 60.2h1.7v1.7h-1.7zM230.1 36.7h1.7v1.7h-1.7zM197.3 120.5h1.7v1.7h-1.7zM214.6 56.2h1.7v1.7h-1.7zM206.2 59.0h1.7v1.7h-1.7zM224.1 41.9h1.7v1.7h-1.7zM232.6 109.9h1.7v1.7h-1.7zM230.5 38.8h1.7v1.7h-1.7zM193.8 119.8h1.7v1.7h-1.7zM208.0 57.2h1.7v1.7h-1.7zM223.4 38.8h1.7v1.7h-1.7zM208.0 118.5h1.7v1.7h-1.7zM197.5 123.3h1.7v1.7h-1.7zM223.9 43.5h1.7v1.7h-1.7zM199.6 53.4h1.7v1.7h-1.7zM209.3 59.9h1.7v1.7h-1.7zM220.7 42.4h1.7v1.7h-1.7zM217.7 113.9h1.7v1.7h-1.7zM211.7 117.4h1.7v1.7h-1.7zM192.5 119.0h1.7v1.7h-1.7zM205.1 52.9h1.7v1.7h-1.7zM219.3 49.1h1.7v1.7h-1.7zM197.4 119.9h1.7v1.7h-1.7zM232.9 103.6h1.7v1.7h-1.7zM223.2 40.5h1.7v1.7h-1.7zM229.1 39.9h1.7v1.7h-1.7zM223.0 115.5h1.7v1.7h-1.7zM220.2 48.4h1.7v1.7h-1.7zM223.3 42.3h1.7v1.7h-1.7zM233.5 35.2h1.7v1.7h-1.7zM194.4 122.2h1.7v1.7h-1.7zM204.0 131.0h1.7v1.7h-1.7zM220.6 112.3h1.7v1.7h-1.7zM195.1 48.6h1.7v1.7h-1.7zM201.4 55.5h1.7v1.7h-1.7zM223.7 110.6h1.7v1.7h-1.7zM203.1 122.9h1.7v1.7h-1.7zM233.8 38.9h1.7v1.7h-1.7zM231.6 37.1h1.7v1.7h-1.7zM207.2 120.8h1.7v1.7h-1.7zM226.1 38.4h1.7v1.7h-1.7zM218.9 46.1h1.7v1.7h-1.7zM229.2 39.1h1.7v1.7h-1.7zM208.4 60.5h1.7v1.7h-1.7zM204.9 55.0h1.7v1.7h-1.7zM212.3 57.6h1.7v1.7h-1.7zM213.2 57.6h1.7v1.7h-1.7zM195.6 36.1h1.7v1.7h-1.7zM225.6 38.1h1.7v1.7h-1.7zM235.8 104.8h1.7v1.7h-1.7zM214.1 56.4h1.7v1.7h-1.7zM216.5 46.5h1.7v1.7h-1.7zM220.9 119.5h1.7v1.7h-1.7zM221.3 46.1h1.7v1.7h-1.7zM198.6 49.1h1.7v1.7h-1.7zM229.6 39.4h1.7v1.7h-1.7zM220.7 119.2h1.7v1.7h-1.7zM199.9 125.4h1.7v1.7h-1.7zM225.3 41.5h1.7v1.7h-1.7zM228.9 38.9h1.7v1.7h-1.7zM216.8 48.2h1.7v1.7h-1.7zM203.0 54.7h1.7v1.7h-1.7zM220.2 115.3h1.7v1.7h-1.7zM232.5 105.7h1.7v1.7h-1.7zM214.5 55.4h1.7v1.7h-1.7zM218.1 48.2h1.7v1.7h-1.7zM199.7 44.1h1.7v1.7h-1.7zM196.4 49.7h1.7v1.7h-1.7zM200.9 120.4h1.7v1.7h-1.7zM229.6 110.1h1.7v1.7h-1.7zM211.3 56.3h1.7v1.7h-1.7zM215.2 54.4h1.7v1.7h-1.7zM211.8 121.3h1.7v1.7h-1.7zM232.4 38.3h1.7v1.7h-1.7zM212.0 117.3h1.7v1.7h-1.7zM201.1 54.5h1.7v1.7h-1.7zM212.8 122.9h1.7v1.7h-1.7zM230.7 114.6h1.7v1.7h-1.7zM219.8 112.0h1.7v1.7h-1.7zM222.3 111.6h1.7v1.7h-1.7zM217.7 115.0h1.7v1.7h-1.7zM221.1 46.0h1.7v1.7h-1.7zM231.6 38.9h1.7v1.7h-1.7zM222.4 45.3h1.7v1.7h-1.7zM221.6 43.9h1.7v1.7h-1.7zM210.9 119.0h1.7v1.7h-1.7zM210.0 59.9h1.7v1.7h-1.7zM231.8 104.4h1.7v1.7h-1.7zM230.6 39.5h1.7v1.7h-1.7zM215.9 52.7h1.7v1.7h-1.7zM216.9 50.9h1.7v1.7h-1.7zM197.4 121.9h1.7v1.7h-1.7zM196.0 50.8h1.7v1.7h-1.7zM211.9 118.5h1.7v1.7h-1.7zM224.0 109.9h1.7v1.7h-1.7zM236.2 105.0h1.7v1.7h-1.7zM229.1 39.6h1.7v1.7h-1.7zM234.9 108.5h1.7v1.7h-1.7zM198.5 119.8h1.7v1.7h-1.7zM202.9 57.1h1.7v1.7h-1.7zM218.7 49.7h1.7v1.7h-1.7zM223.7 37.4h1.7v1.7h-1.7zM219.9 114.3h1.7v1.7h-1.7zM233.0 103.8h1.7v1.7h-1.7zM225.4 37.7h1.7v1.7h-1.7zM222.5 110.9h1.7v1.7h-1.7zM208.9 126.2h1.7v1.7h-1.7zM224.4 40.4h1.7v1.7h-1.7zM196.9 123.8h1.7v1.7h-1.7zM197.4 122.6h1.7v1.7h-1.7zM203.7 56.0h1.7v1.7h-1.7zM229.5 105.9h1.7v1.7h-1.7zM193.4 46.5h1.7v1.7h-1.7zM200.6 121.3h1.7v1.7h-1.7zM222.8 44.6h1.7v1.7h-1.7zM231.1 108.0h1.7v1.7h-1.7zM228.2 106.5h1.7v1.7h-1.7zM207.6 58.1h1.7v1.7h-1.7zM231.0 104.7h1.7v1.7h-1.7zM200.5 123.7h1.7v1.7h-1.7zM209.8 60.1h1.7v1.7h-1.7zM229.8 33.8h1.7v1.7h-1.7zM219.4 48.5h1.7v1.7h-1.7zM202.0 123.4h1.7v1.7h-1.7zM194.4 49.3h1.7v1.7h-1.7zM213.1 117.0h1.7v1.7h-1.7zM208.1 57.9h1.7v1.7h-1.7zM207.2 58.1h1.7v1.7h-1.7zM236.0 42.3h1.7v1.7h-1.7zM222.1 45.0h1.7v1.7h-1.7zM214.6 53.9h1.7v1.7h-1.7zM215.8 128.7h1.7v1.7h-1.7zM194.0 121.3h1.7v1.7h-1.7zM231.0 107.6h1.7v1.7h-1.7zM220.5 47.1h1.7v1.7h-1.7zM227.6 115.2h1.7v1.7h-1.7zM222.6 41.1h1.7v1.7h-1.7zM225.1 111.7h1.7v1.7h-1.7zM207.9 119.5h1.7v1.7h-1.7zM195.1 49.0h1.7v1.7h-1.7zM236.1 41.5h1.7v1.7h-1.7zM203.2 56.1h1.7v1.7h-1.7zM198.4 47.3h1.7v1.7h-1.7zM212.5 56.1h1.7v1.7h-1.7zM205.8 58.9h1.7v1.7h-1.7zM205.8 55.2h1.7v1.7h-1.7zM216.8 114.8h1.7v1.7h-1.7zM233.2 103.4h1.7v1.7h-1.7zM200.4 133.4h1.7v1.7h-1.7zM208.2 119.4h1.7v1.7h-1.7zM230.8 37.7h1.7v1.7h-1.7zM232.2 38.5h1.7v1.7h-1.7zM193.5 50.3h1.7v1.7h-1.7zM223.6 42.6h1.7v1.7h-1.7zM201.3 126.5h1.7v1.7h-1.7zM221.1 43.3h1.7v1.7h-1.7zM235.0 104.3h1.7v1.7h-1.7zM228.2 107.7h1.7v1.7h-1.7zM198.5 51.2h1.7v1.7h-1.7zM231.1 112.2h1.7v1.7h-1.7zM201.8 52.1h1.7v1.7h-1.7zM221.1 43.8h1.7v1.7h-1.7zM207.4 58.5h1.7v1.7h-1.7zM194.5 118.6h1.7v1.7h-1.7zM214.3 116.0h1.7v1.7h-1.7zM212.9 50.5h1.7v1.7h-1.7zM217.4 113.4h1.7v1.7h-1.7zM219.6 113.1h1.7v1.7h-1.7zM196.6 51.1h1.7v1.7h-1.7zM211.2 127.0h1.7v1.7h-1.7zM216.9 124.3h1.7v1.7h-1.7zM207.2 126.5h1.7v1.7h-1.7zM223.7 122.0h1.7v1.7h-1.7zM206.3 132.9h1.7v1.7h-1.7zM212.5 47.4h1.7v1.7h-1.7zM218.6 30.9h1.7v1.7h-1.7zM224.2 30.9h1.7v1.7h-1.7zM227.2 30.9h1.7v1.7h-1.7zM230.2 30.9h1.7v1.7h-1.7zM232.2 30.9h1.7v1.7h-1.7zM234.2 30.9h1.7v1.7h-1.7z" fill="#f0900e"/>
<path d="M241.3 45.8 L242.0 42.0 L242.7 43.0 L243.4 40.9 L244.1 39.5 L244.8 39.1 L245.5 39.2 L246.3 40.4 L247.0 39.4 L247.7 40.0 L248.4 39.4 L249.1 41.7 L249.8 38.9 L250.5 39.7 L251.2 40.6 L251.9 40.3 L252.6 40.8 L253.3 42.4 L254.0 42.0 L254.7 41.8 L255.4 43.0 L256.2 42.8 L256.9 44.6 L257.6 44.4 L258.3 43.9 L259.0 45.2 L259.7 45.1 L260.4 47.3 L261.1 49.1 L261.8 48.4 L262.5 50.1 L263.2 48.8 L263.9 50.9 L264.6 49.7 L265.4 51.8 L266.1 51.5 L266.8 51.1 L267.5 52.9 L268.2 53.2 L268.9 53.2 L269.6 51.7 L270.3 54.6 L271.0 51.9 L271.7 55.3 L272.4 55.4 L273.1 55.2 L273.8 53.8 L274.5 53.9 L275.3 56.9 L276.0 57.1 L276.7 54.7 L277.4 57.5 L278.1 55.5 L278.8 56.4 L279.5 56.1 L279.5 111.1 L278.8 112.7 L278.1 114.0 L277.4 115.6 L276.7 115.2 L276.0 118.7 L275.3 118.9 L274.5 118.1 L273.8 119.2 L273.1 117.3 L272.4 117.5 L271.7 117.0 L271.0 117.4 L270.3 118.0 L269.6 119.7 L268.9 119.5 L268.2 117.8 L267.5 117.2 L266.8 118.2 L266.1 118.1 L265.4 116.6 L264.6 117.4 L263.9 116.5 L263.2 117.7 L262.5 117.8 L261.8 115.2 L261.1 115.1 L260.4 115.1 L259.7 116.4 L259.0 114.5 L258.3 114.5 L257.6 114.2 L256.9 116.4 L256.2 114.5 L255.4 113.3 L254.7 114.2 L254.0 113.0 L253.3 112.9 L252.6 113.4 L251.9 114.8 L251.2 114.1 L250.5 115.0 L249.8 114.2 L249.1 112.0 L248.4 113.7 L247.7 111.6 L247.0 114.0 L246.3 112.6 L245.5 110.9 L244.8 110.7 L244.1 112.9 L243.4 113.5 L242.7 112.7 L242.0 111.6 L241.3 110.4Z" fill="#f060a4"/>
<path d="M277.8 49.7h1.7v1.7h-1.7zM245.4 38.7h1.7v1.7h-1.7zM256.9 39.4h1.7v1.7h-1.7zM246.5 114.3h1.7v1.7h-1.7zM245.1 37.1h1.7v1.7h-1.7zM275.1 53.9h1.7v1.7h-1.7zM276.9 117.9h1.7v1.7h-1.7zM251.1 38.6h1.7v1.7h-1.7zM243.5 37.0h1.7v1.7h-1.7zM256.1 115.9h1.7v1.7h-1.7zM241.3 114.5h1.7v1.7h-1.7zM261.2 119.5h1.7v1.7h-1.7zM277.5 116.9h1.7v1.7h-1.7zM255.8 40.2h1.7v1.7h-1.7zM277.1 54.2h1.7v1.7h-1.7zM241.1 119.1h1.7v1.7h-1.7zM250.4 114.6h1.7v1.7h-1.7zM249.9 38.9h1.7v1.7h-1.7zM272.3 125.3h1.7v1.7h-1.7zM242.8 112.7h1.7v1.7h-1.7zM265.0 118.5h1.7v1.7h-1.7zM277.1 51.5h1.7v1.7h-1.7zM272.7 120.8h1.7v1.7h-1.7zM278.0 53.1h1.7v1.7h-1.7zM268.6 47.6h1.7v1.7h-1.7zM255.6 117.3h1.7v1.7h-1.7zM266.1 47.2h1.7v1.7h-1.7zM261.2 44.3h1.7v1.7h-1.7zM250.8 115.2h1.7v1.7h-1.7zM267.8 119.8h1.7v1.7h-1.7zM260.6 118.0h1.7v1.7h-1.7zM271.2 52.1h1.7v1.7h-1.7zM271.5 49.8h1.7v1.7h-1.7zM271.7 124.2h1.7v1.7h-1.7zM242.6 34.7h1.7v1.7h-1.7zM271.4 52.3h1.7v1.7h-1.7zM250.3 38.1h1.7v1.7h-1.7zM270.8 120.0h1.7v1.7h-1.7zM266.8 48.5h1.7v1.7h-1.7zM270.6 118.6h1.7v1.7h-1.7zM266.3 48.0h1.7v1.7h-1.7zM249.8 38.0h1.7v1.7h-1.7zM255.1 40.5h1.7v1.7h-1.7zM262.2 47.6h1.7v1.7h-1.7zM267.7 49.7h1.7v1.7h-1.7zM249.9 113.4h1.7v1.7h-1.7zM264.6 117.9h1.7v1.7h-1.7zM256.7 117.5h1.7v1.7h-1.7zM254.8 39.0h1.7v1.7h-1.7zM254.6 115.3h1.7v1.7h-1.7zM256.1 119.5h1.7v1.7h-1.7zM254.1 37.5h1.7v1.7h-1.7zM275.4 44.1h1.7v1.7h-1.7zM267.4 47.5h1.7v1.7h-1.7zM253.2 35.7h1.7v1.7h-1.7zM255.1 116.4h1.7v1.7h-1.7zM274.5 117.7h1.7v1.7h-1.7zM263.0 46.7h1.7v1.7h-1.7zM272.2 51.2h1.7v1.7h-1.7zM274.1 52.1h1.7v1.7h-1.7zM260.0 118.8h1.7v1.7h-1.7zM268.5 51.2h1.7v1.7h-1.7zM266.2 122.0h1.7v1.7h-1.7zM269.6 51.1h1.7v1.7h-1.7zM243.8 112.0h1.7v1.7h-1.7zM244.2 114.3h1.7v1.7h-1.7zM243.0 115.3h1.7v1.7h-1.7zM258.9 41.4h1.7v1.7h-1.7zM256.5 133.4h1.7v1.7h-1.7zM271.3 118.6h1.7v1.7h-1.7zM253.4 114.0h1.7v1.7h-1.7zM277.7 55.0h1.7v1.7h-1.7zM252.6 34.0h1.7v1.7h-1.7zM261.6 117.8h1.7v1.7h-1.7zM242.9 33.6h1.7v1.7h-1.7zM270.8 119.0h1.7v1.7h-1.7zM248.5 36.8h1.7v1.7h-1.7zM254.9 38.8h1.7v1.7h-1.7zM262.7 43.6h1.7v1.7h-1.7zM248.4 115.1h1.7v1.7h-1.7zM242.9 37.3h1.7v1.7h-1.7zM256.2 115.7h1.7v1.7h-1.7zM251.1 114.4h1.7v1.7h-1.7zM267.4 120.5h1.7v1.7h-1.7zM257.9 116.7h1.7v1.7h-1.7zM273.6 52.2h1.7v1.7h-1.7zM264.7 43.5h1.7v1.7h-1.7zM243.6 112.3h1.7v1.7h-1.7zM275.3 121.3h1.7v1.7h-1.7zM259.5 118.7h1.7v1.7h-1.7zM251.9 34.2h1.7v1.7h-1.7zM246.4 112.9h1.7v1.7h-1.7zM244.7 34.5h1.7v1.7h-1.7zM276.3 52.0h1.7v1.7h-1.7zM250.5 116.7h1.7v1.7h-1.7zM246.7 35.6h1.7v1.7h-1.7zM242.5 112.5h1.7v1.7h-1.7zM249.6 114.2h1.7v1.7h-1.7zM261.8 40.5h1.7v1.7h-1.7zM253.0 114.4h1.7v1.7h-1.7zM270.7 119.6h1.7v1.7h-1.7zM242.2 37.6h1.7v1.7h-1.7zM249.3 113.2h1.7v1.7h-1.7zM258.2 116.7h1.7v1.7h-1.7zM266.2 44.9h1.7v1.7h-1.7zM245.5 128.7h1.7v1.7h-1.7zM275.9 116.6h1.7v1.7h-1.7zM253.9 116.1h1.7v1.7h-1.7zM275.5 52.9h1.7v1.7h-1.7zM273.1 120.5h1.7v1.7h-1.7zM244.2 38.2h1.7v1.7h-1.7zM274.2 118.9h1.7v1.7h-1.7zM275.3 52.0h1.7v1.7h-1.7zM276.9 46.9h1.7v1.7h-1.7zM265.4 48.5h1.7v1.7h-1.7zM257.7 39.6h1.7v1.7h-1.7zM247.6 113.6h1.7v1.7h-1.7zM243.5 112.0h1.7v1.7h-1.7zM261.5 118.8h1.7v1.7h-1.7zM258.1 42.0h1.7v1.7h-1.7zM244.6 112.3h1.7v1.7h-1.7zM262.5 46.9h1.7v1.7h-1.7zM265.6 49.3h1.7v1.7h-1.7zM276.0 49.5h1.7v1.7h-1.7zM273.4 53.3h1.7v1.7h-1.7zM244.4 112.2h1.7v1.7h-1.7zM259.4 115.6h1.7v1.7h-1.7zM258.4 42.1h1.7v1.7h-1.7zM259.8 45.1h1.7v1.7h-1.7zM256.0 41.6h1.7v1.7h-1.7zM249.9 115.2h1.7v1.7h-1.7zM274.1 45.5h1.7v1.7h-1.7zM259.1 117.7h1.7v1.7h-1.7zM266.6 46.2h1.7v1.7h-1.7zM246.7 39.1h1.7v1.7h-1.7zM255.6 115.5h1.7v1.7h-1.7zM274.1 51.5h1.7v1.7h-1.7zM249.7 117.6h1.7v1.7h-1.7zM267.4 49.9h1.7v1.7h-1.7zM263.2 116.9h1.7v1.7h-1.7zM263.9 122.1h1.7v1.7h-1.7zM253.7 115.9h1.7v1.7h-1.7zM275.2 46.2h1.7v1.7h-1.7zM256.3 42.0h1.7v1.7h-1.7zM250.1 116.5h1.7v1.7h-1.7zM246.6 38.7h1.7v1.7h-1.7zM248.3 37.9h1.7v1.7h-1.7zM277.3 118.2h1.7v1.7h-1.7zM258.8 40.3h1.7v1.7h-1.7zM274.7 120.3h1.7v1.7h-1.7zM248.4 118.3h1.7v1.7h-1.7zM270.2 48.4h1.7v1.7h-1.7zM266.0 117.9h1.7v1.7h-1.7zM271.8 125.2h1.7v1.7h-1.7zM268.7 122.9h1.7v1.7h-1.7zM262.9 43.3h1.7v1.7h-1.7zM270.1 119.2h1.7v1.7h-1.7zM276.7 123.1h1.7v1.7h-1.7zM245.3 116.6h1.7v1.7h-1.7zM250.3 114.0h1.7v1.7h-1.7zM248.3 38.3h1.7v1.7h-1.7zM259.3 118.7h1.7v1.7h-1.7zM267.4 46.2h1.7v1.7h-1.7zM270.5 126.7h1.7v1.7h-1.7zM271.3 45.9h1.7v1.7h-1.7zM265.1 126.1h1.7v1.7h-1.7zM263.0 129.0h1.7v1.7h-1.7zM241.6 35.4h1.7v1.7h-1.7zM245.5 121.4h1.7v1.7h-1.7zM263.3 39.4h1.7v1.7h-1.7zM242.6 30.9h1.7v1.7h-1.7zM245.2 30.9h1.7v1.7h-1.7zM247.2 30.9h1.7v1.7h-1.7zM249.2 30.9h1.7v1.7h-1.7zM251.2 30.9h1.7v1.7h-1.7zM254.2 30.9h1.7v1.7h-1.7zM258.5 30.9h1.7v1.7h-1.7z" fill="#f060a4"/>
<path d="M282.4 59.5 L283.1 60.5 L283.8 57.6 L284.5 56.4 L285.2 55.8 L285.9 55.7 L286.6 54.1 L287.4 53.3 L288.1 50.3 L288.8 49.4 L289.5 50.4 L290.2 50.1 L290.9 48.4 L291.6 48.1 L292.3 46.7 L293.0 46.3 L293.7 46.4 L294.4 49.9 L295.1 50.0 L295.9 53.7 L296.6 65.6 L297.3 67.7 L298.0 58.4 L298.7 49.4 L299.4 47.9 L300.1 47.8 L300.8 46.1 L301.5 44.5 L302.2 44.7 L302.9 43.5 L303.6 44.3 L304.4 43.1 L305.1 41.5 L305.8 41.6 L306.5 41.0 L307.2 38.3 L307.9 38.1 L308.6 39.9 L309.3 38.5 L310.0 36.4 L310.7 38.3 L311.4 36.5 L312.1 36.2 L312.9 36.2 L313.6 37.0 L314.3 37.3 L315.0 38.4 L315.7 37.8 L316.4 36.3 L316.4 106.0 L315.7 106.2 L315.0 108.7 L314.3 108.8 L313.6 111.0 L312.9 112.3 L312.1 111.6 L311.4 113.0 L310.7 113.1 L310.0 112.4 L309.3 113.1 L308.6 111.9 L307.9 114.6 L307.2 112.7 L306.5 114.2 L305.8 114.7 L305.1 113.4 L304.4 113.5 L303.6 110.8 L302.9 111.1 L302.2 112.1 L301.5 110.2 L300.8 109.8 L300.1 108.0 L299.4 107.4 L298.7 104.2 L298.0 104.7 L297.3 95.4 L296.6 94.3 L295.9 99.5 L295.1 103.9 L294.4 106.4 L293.7 106.8 L293.0 108.7 L292.3 110.3 L291.6 111.6 L290.9 112.2 L290.2 111.5 L289.5 113.2 L288.8 113.1 L288.1 116.5 L287.4 115.1 L286.6 115.6 L285.9 116.8 L285.2 119.5 L284.5 120.5 L283.8 118.7 L283.1 118.0 L282.4 115.1Z" fill="#0ab9e6"/>
<path d="M309.3 113.6h1.7v1.7h-1.7zM286.7 121.7h1.7v1.7h-1.7zM287.4 114.8h1.7v1.7h-1.7zM292.3 45.2h1.7v1.7h-1.7zM294.7 113.1h1.7v1.7h-1.7zM288.2 39.5h1.7v1.7h-1.7zM288.6 46.2h1.7v1.7h-1.7zM285.6 51.1h1.7v1.7h-1.7zM294.8 103.8h1.7v1.7h-1.7zM288.8 114.0h1.7v1.7h-1.7zM309.7 116.8h1.7v1.7h-1.7zM292.4 42.1h1.7v1.7h-1.7zM297.6 107.7h1.7v1.7h-1.7zM306.9 36.7h1.7v1.7h-1.7zM312.3 111.0h1.7v1.7h-1.7zM302.8 37.0h1.7v1.7h-1.7zM283.4 122.3h1.7v1.7h-1.7zM293.7 106.6h1.7v1.7h-1.7zM290.1 44.8h1.7v1.7h-1.7zM306.9 114.3h1.7v1.7h-1.7zM308.7 35.8h1.7v1.7h-1.7zM303.3 115.3h1.7v1.7h-1.7zM304.9 114.5h1.7v1.7h-1.7zM313.1 110.5h1.7v1.7h-1.7zM295.0 101.7h1.7v1.7h-1.7zM288.2 115.4h1.7v1.7h-1.7zM299.2 115.0h1.7v1.7h-1.7zM286.5 50.9h1.7v1.7h-1.7zM295.7 98.7h1.7v1.7h-1.7zM304.1 114.6h1.7v1.7h-1.7zM301.0 37.7h1.7v1.7h-1.7zM308.1 113.0h1.7v1.7h-1.7zM304.2 115.2h1.7v1.7h-1.7zM311.7 114.7h1.7v1.7h-1.7zM309.1 118.6h1.7v1.7h-1.7zM286.4 119.5h1.7v1.7h-1.7zM302.3 41.8h1.7v1.7h-1.7zM302.0 111.9h1.7v1.7h-1.7zM289.1 47.4h1.7v1.7h-1.7zM304.4 118.0h1.7v1.7h-1.7zM293.9 105.4h1.7v1.7h-1.7zM309.7 36.4h1.7v1.7h-1.7zM302.8 40.5h1.7v1.7h-1.7zM284.0 53.0h1.7v1.7h-1.7zM285.7 49.5h1.7v1.7h-1.7zM293.3 44.5h1.7v1.7h-1.7zM289.2 112.2h1.7v1.7h-1.7zM309.8 114.5h1.7v1.7h-1.7zM283.1 119.9h1.7v1.7h-1.7zM298.7 45.8h1.7v1.7h-1.7zM302.8 114.5h1.7v1.7h-1.7zM295.3 100.3h1.7v1.7h-1.7zM289.5 127.4h1.7v1.7h-1.7zM308.6 113.6h1.7v1.7h-1.7zM314.6 33.9h1.7v1.7h-1.7zM286.5 47.7h1.7v1.7h-1.7zM305.4 37.9h1.7v1.7h-1.7zM288.3 47.1h1.7v1.7h-1.7zM288.5 114.9h1.7v1.7h-1.7zM296.5 61.4h1.7v1.7h-1.7zM288.5 45.5h1.7v1.7h-1.7zM305.2 117.1h1.7v1.7h-1.7zM313.3 112.7h1.7v1.7h-1.7zM305.8 38.2h1.7v1.7h-1.7zM282.5 121.8h1.7v1.7h-1.7zM302.8 40.1h1.7v1.7h-1.7zM287.5 128.5h1.7v1.7h-1.7zM292.1 45.6h1.7v1.7h-1.7zM293.8 110.5h1.7v1.7h-1.7zM297.1 56.7h1.7v1.7h-1.7zM287.1 116.6h1.7v1.7h-1.7zM314.7 111.4h1.7v1.7h-1.7zM297.8 105.3h1.7v1.7h-1.7zM285.6 119.0h1.7v1.7h-1.7zM289.0 47.7h1.7v1.7h-1.7zM312.0 119.0h1.7v1.7h-1.7zM294.7 108.7h1.7v1.7h-1.7zM286.5 50.4h1.7v1.7h-1.7zM301.4 42.9h1.7v1.7h-1.7zM309.5 114.1h1.7v1.7h-1.7zM283.5 122.0h1.7v1.7h-1.7zM284.4 51.8h1.7v1.7h-1.7zM288.8 40.7h1.7v1.7h-1.7zM294.7 45.4h1.7v1.7h-1.7zM286.2 49.7h1.7v1.7h-1.7zM301.4 114.1h1.7v1.7h-1.7zM296.6 60.7h1.7v1.7h-1.7zM283.8 54.1h1.7v1.7h-1.7zM304.3 114.0h1.7v1.7h-1.7zM303.5 114.4h1.7v1.7h-1.7zM286.7 118.0h1.7v1.7h-1.7zM284.1 42.2h1.7v1.7h-1.7zM289.6 42.8h1.7v1.7h-1.7zM309.2 116.4h1.7v1.7h-1.7zM283.3 45.3h1.7v1.7h-1.7zM308.5 36.8h1.7v1.7h-1.7zM290.0 111.1h1.7v1.7h-1.7zM304.2 116.2h1.7v1.7h-1.7zM312.4 34.7h1.7v1.7h-1.7zM282.7 118.8h1.7v1.7h-1.7zM314.2 108.1h1.7v1.7h-1.7zM308.7 34.7h1.7v1.7h-1.7zM285.5 123.6h1.7v1.7h-1.7zM300.4 111.5h1.7v1.7h-1.7zM302.5 116.3h1.7v1.7h-1.7zM284.6 52.0h1.7v1.7h-1.7zM291.7 46.4h1.7v1.7h-1.7zM306.6 33.0h1.7v1.7h-1.7zM308.8 36.4h1.7v1.7h-1.7zM303.5 39.1h1.7v1.7h-1.7zM285.7 119.1h1.7v1.7h-1.7zM293.7 43.4h1.7v1.7h-1.7zM310.1 112.5h1.7v1.7h-1.7zM294.2 43.4h1.7v1.7h-1.7zM286.9 126.5h1.7v1.7h-1.7zM307.4 37.5h1.7v1.7h-1.7zM285.8 119.4h1.7v1.7h-1.7zM299.2 43.5h1.7v1.7h-1.7zM302.2 118.7h1.7v1.7h-1.7zM306.2 120.1h1.7v1.7h-1.7zM309.7 112.3h1.7v1.7h-1.7zM304.5 114.8h1.7v1.7h-1.7zM296.6 98.4h1.7v1.7h-1.7zM292.0 45.1h1.7v1.7h-1.7zM285.2 41.5h1.7v1.7h-1.7zM303.6 116.9h1.7v1.7h-1.7zM309.7 116.4h1.7v1.7h-1.7zM291.1 45.1h1.7v1.7h-1.7zM282.7 50.9h1.7v1.7h-1.7zM307.6 117.3h1.7v1.7h-1.7zM299.6 39.5h1.7v1.7h-1.7zM292.4 109.3h1.7v1.7h-1.7zM299.8 109.2h1.7v1.7h-1.7zM299.6 110.7h1.7v1.7h-1.7zM304.8 113.3h1.7v1.7h-1.7zM289.1 40.6h1.7v1.7h-1.7zM282.5 54.0h1.7v1.7h-1.7zM314.7 34.2h1.7v1.7h-1.7zM304.7 117.2h1.7v1.7h-1.7zM306.9 37.2h1.7v1.7h-1.7zM283.0 120.2h1.7v1.7h-1.7zM290.6 112.8h1.7v1.7h-1.7zM301.5 121.2h1.7v1.7h-1.7zM284.7 44.6h1.7v1.7h-1.7zM287.1 39.0h1.7v1.7h-1.7zM313.6 116.7h1.7v1.7h-1.7zM291.5 30.9h1.7v1.7h-1.7zM300.1 30.9h1.7v1.7h-1.7zM309.1 30.9h1.7v1.7h-1.7zM311.8 30.9h1.7v1.7h-1.7z" fill="#0ab9e6"/>
<path d="M318.6 49.1 L319.3 46.2 L320.0 46.3 L320.7 45.6 L321.4 43.7 L322.1 43.8 L322.8 42.1 L323.6 42.0 L324.3 43.0 L325.0 40.2 L325.7 38.9 L326.4 37.5 L327.1 37.5 L327.8 34.8 L328.5 32.9 L329.2 32.2 L329.9 32.1 L330.6 31.3 L331.3 33.0 L332.0 33.4 L332.7 32.6 L333.5 32.8 L334.2 31.5 L334.9 31.3 L335.6 32.8 L336.3 31.5 L337.0 31.3 L337.7 31.3 L338.4 31.5 L339.1 31.8 L339.8 31.3 L340.5 33.0 L341.2 31.3 L341.9 31.3 L342.6 32.6 L343.4 31.3 L344.1 31.3 L344.8 31.7 L345.5 31.3 L346.2 31.8 L346.9 32.1 L347.6 31.3 L347.6 87.4 L346.9 85.5 L346.2 88.5 L345.5 86.9 L344.8 86.4 L344.1 87.1 L343.4 88.1 L342.6 87.2 L341.9 88.6 L341.2 88.8 L340.5 88.8 L339.8 91.0 L339.1 92.5 L338.4 92.6 L337.7 92.6 L337.0 93.0 L336.3 95.7 L335.6 95.1 L334.9 95.9 L334.2 97.5 L333.5 97.4 L332.7 97.7 L332.0 99.1 L331.3 99.1 L330.6 99.6 L329.9 101.3 L329.2 103.8 L328.5 105.9 L327.8 104.3 L327.1 107.0 L326.4 108.1 L325.7 110.1 L325.0 108.4 L324.3 111.7 L323.6 113.3 L322.8 114.2 L322.1 115.1 L321.4 116.4 L320.7 116.1 L320.0 115.4 L319.3 113.6 L318.6 112.6Z" fill="#24d262"/>
<path d="M334.0 106.1h1.7v1.7h-1.7zM325.7 108.8h1.7v1.7h-1.7zM336.5 93.0h1.7v1.7h-1.7zM331.4 101.2h1.7v1.7h-1.7zM324.8 35.9h1.7v1.7h-1.7zM344.7 92.7h1.7v1.7h-1.7zM328.5 103.2h1.7v1.7h-1.7zM324.6 115.7h1.7v1.7h-1.7zM320.5 43.6h1.7v1.7h-1.7zM339.2 98.1h1.7v1.7h-1.7zM329.5 101.2h1.7v1.7h-1.7zM332.6 99.8h1.7v1.7h-1.7zM346.0 87.1h1.7v1.7h-1.7zM322.8 111.6h1.7v1.7h-1.7zM334.0 96.8h1.7v1.7h-1.7zM322.4 39.7h1.7v1.7h-1.7zM334.5 95.8h1.7v1.7h-1.7zM324.8 36.0h1.7v1.7h-1.7zM336.8 102.1h1.7v1.7h-1.7zM325.8 108.3h1.7v1.7h-1.7zM319.7 115.1h1.7v1.7h-1.7zM318.7 44.8h1.7v1.7h-1.7zM345.3 88.3h1.7v1.7h-1.7zM333.1 102.2h1.7v1.7h-1.7zM336.5 93.3h1.7v1.7h-1.7zM325.1 110.6h1.7v1.7h-1.7zM340.7 98.3h1.7v1.7h-1.7zM323.6 33.6h1.7v1.7h-1.7zM325.4 36.3h1.7v1.7h-1.7zM332.9 97.6h1.7v1.7h-1.7zM339.0 91.9h1.7v1.7h-1.7zM337.1 92.3h1.7v1.7h-1.7zM331.6 102.4h1.7v1.7h-1.7zM345.2 87.5h1.7v1.7h-1.7zM324.3 39.4h1.7v1.7h-1.7zM322.1 40.6h1.7v1.7h-1.7zM320.4 123.3h1.7v1.7h-1.7zM318.7 114.6h1.7v1.7h-1.7zM328.6 106.8h1.7v1.7h-1.7zM341.6 91.1h1.7v1.7h-1.7zM338.0 91.8h1.7v1.7h-1.7zM341.3 93.9h1.7v1.7h-1.7zM342.8 88.3h1.7v1.7h-1.7zM318.7 117.8h1.7v1.7h-1.7zM325.9 36.7h1.7v1.7h-1.7zM323.1 111.2h1.7v1.7h-1.7zM324.7 35.1h1.7v1.7h-1.7zM344.4 87.5h1.7v1.7h-1.7zM327.6 105.1h1.7v1.7h-1.7zM319.8 44.1h1.7v1.7h-1.7zM320.8 117.8h1.7v1.7h-1.7zM325.6 111.0h1.7v1.7h-1.7zM344.3 87.2h1.7v1.7h-1.7zM322.6 113.4h1.7v1.7h-1.7zM323.6 115.3h1.7v1.7h-1.7zM336.8 93.0h1.7v1.7h-1.7zM323.6 110.7h1.7v1.7h-1.7zM330.1 104.1h1.7v1.7h-1.7zM319.1 115.1h1.7v1.7h-1.7zM326.4 109.3h1.7v1.7h-1.7zM335.5 95.1h1.7v1.7h-1.7zM327.0 105.8h1.7v1.7h-1.7zM322.7 37.2h1.7v1.7h-1.7zM341.4 97.7h1.7v1.7h-1.7zM320.7 41.4h1.7v1.7h-1.7zM322.5 118.3h1.7v1.7h-1.7zM332.4 99.2h1.7v1.7h-1.7zM338.3 95.3h1.7v1.7h-1.7zM321.2 41.6h1.7v1.7h-1.7zM324.5 37.2h1.7v1.7h-1.7zM338.2 92.3h1.7v1.7h-1.7zM330.8 107.7h1.7v1.7h-1.7zM345.7 86.9h1.7v1.7h-1.7zM331.3 100.1h1.7v1.7h-1.7zM320.2 119.5h1.7v1.7h-1.7zM320.9 114.3h1.7v1.7h-1.7zM326.3 106.3h1.7v1.7h-1.7zM321.2 42.5h1.7v1.7h-1.7zM333.1 97.7h1.7v1.7h-1.7zM323.1 112.9h1.7v1.7h-1.7zM339.0 97.0h1.7v1.7h-1.7zM331.5 101.6h1.7v1.7h-1.7zM331.4 106.1h1.7v1.7h-1.7z" fill="#24d262"/>
<path d="M350.0 52.1 L350.7 54.5 L351.4 52.7 L352.1 55.6 L352.8 57.6 L353.6 57.4 L354.3 55.4 L355.0 55.6 L355.7 55.5 L356.4 54.8 L357.1 55.3 L357.8 56.7 L358.5 54.3 L359.2 55.7 L360.0 55.2 L360.7 55.1 L361.4 54.2 L362.1 54.4 L362.8 52.9 L363.5 53.3 L364.2 52.8 L364.9 52.4 L365.6 52.1 L366.4 50.7 L367.1 48.1 L367.8 49.2 L368.5 48.0 L369.2 48.9 L369.9 46.5 L370.6 46.1 L371.3 45.8 L372.1 46.8 L372.8 44.0 L373.5 45.6 L374.2 44.1 L374.9 44.7 L375.6 42.6 L376.3 43.9 L377.0 43.4 L377.7 41.0 L378.5 41.6 L379.2 41.7 L379.9 41.5 L380.6 41.1 L381.3 42.2 L382.0 42.0 L382.7 44.6 L383.4 42.6 L384.1 43.2 L384.9 45.6 L385.6 46.9 L386.3 48.4 L387.0 50.4 L387.7 49.5 L387.7 115.4 L387.0 114.0 L386.3 115.2 L385.6 112.6 L384.9 114.3 L384.1 113.7 L383.4 114.4 L382.7 113.5 L382.0 112.2 L381.3 111.3 L380.6 113.1 L379.9 111.5 L379.2 112.2 L378.5 109.6 L377.7 111.7 L377.0 111.1 L376.3 110.1 L375.6 110.4 L374.9 111.3 L374.2 109.3 L373.5 108.4 L372.8 107.6 L372.1 107.8 L371.3 106.8 L370.6 106.6 L369.9 107.1 L369.2 108.8 L368.5 108.5 L367.8 107.5 L367.1 108.8 L366.4 108.1 L365.6 108.6 L364.9 107.2 L364.2 109.9 L363.5 108.8 L362.8 109.3 L362.1 109.3 L361.4 110.8 L360.7 111.1 L360.0 113.5 L359.2 115.3 L358.5 116.1 L357.8 116.7 L357.1 117.4 L356.4 119.3 L355.7 117.4 L355.0 118.1 L354.3 118.2 L353.6 119.6 L352.8 117.9 L352.1 119.3 L351.4 118.4 L350.7 117.3 L350.0 117.6Z" fill="#f0900e"/>
<path d="M379.1 33.7h1.7v1.7h-1.7zM386.1 46.7h1.7v1.7h-1.7zM375.7 110.5h1.7v1.7h-1.7zM360.7 48.4h1.7v1.7h-1.7zM356.5 118.2h1.7v1.7h-1.7zM374.2 33.0h1.7v1.7h-1.7zM386.3 118.8h1.7v1.7h-1.7zM356.4 118.7h1.7v1.7h-1.7zM377.5 111.7h1.7v1.7h-1.7zM383.6 43.8h1.7v1.7h-1.7zM368.1 114.1h1.7v1.7h-1.7zM384.7 121.5h1.7v1.7h-1.7zM370.2 42.4h1.7v1.7h-1.7zM379.1 37.4h1.7v1.7h-1.7zM359.2 51.5h1.7v1.7h-1.7zM368.5 46.4h1.7v1.7h-1.7zM349.9 48.3h1.7v1.7h-1.7zM377.1 39.3h1.7v1.7h-1.7zM368.6 43.8h1.7v1.7h-1.7zM382.8 40.2h1.7v1.7h-1.7zM376.1 113.6h1.7v1.7h-1.7zM375.7 35.7h1.7v1.7h-1.7zM383.6 35.3h1.7v1.7h-1.7zM365.9 48.4h1.7v1.7h-1.7zM378.9 111.5h1.7v1.7h-1.7zM366.5 125.3h1.7v1.7h-1.7zM362.0 110.2h1.7v1.7h-1.7zM356.9 52.6h1.7v1.7h-1.7zM372.3 43.2h1.7v1.7h-1.7zM357.7 53.2h1.7v1.7h-1.7zM361.2 110.7h1.7v1.7h-1.7zM367.3 36.7h1.7v1.7h-1.7zM367.5 109.1h1.7v1.7h-1.7zM356.9 116.0h1.7v1.7h-1.7zM355.9 50.8h1.7v1.7h-1.7zM385.1 45.2h1.7v1.7h-1.7zM365.3 45.6h1.7v1.7h-1.7zM364.0 44.0h1.7v1.7h-1.7zM370.7 39.3h1.7v1.7h-1.7zM376.4 37.7h1.7v1.7h-1.7zM383.4 41.9h1.7v1.7h-1.7zM360.6 114.0h1.7v1.7h-1.7zM376.6 110.5h1.7v1.7h-1.7zM363.1 113.2h1.7v1.7h-1.7zM371.3 109.5h1.7v1.7h-1.7zM384.3 114.8h1.7v1.7h-1.7zM356.3 47.5h1.7v1.7h-1.7zM379.0 39.0h1.7v1.7h-1.7zM367.3 46.2h1.7v1.7h-1.7zM382.5 40.2h1.7v1.7h-1.7zM383.8 115.0h1.7v1.7h-1.7zM361.9 48.8h1.7v1.7h-1.7zM378.5 38.8h1.7v1.7h-1.7zM363.9 42.8h1.7v1.7h-1.7zM369.4 44.7h1.7v1.7h-1.7zM379.8 36.6h1.7v1.7h-1.7zM350.4 52.7h1.7v1.7h-1.7zM379.2 39.4h1.7v1.7h-1.7zM351.8 50.7h1.7v1.7h-1.7zM376.1 118.7h1.7v1.7h-1.7zM369.9 107.8h1.7v1.7h-1.7zM383.6 43.3h1.7v1.7h-1.7zM377.1 111.6h1.7v1.7h-1.7zM353.1 122.4h1.7v1.7h-1.7zM371.6 108.5h1.7v1.7h-1.7zM351.7 54.5h1.7v1.7h-1.7zM375.6 110.1h1.7v1.7h-1.7zM355.6 51.6h1.7v1.7h-1.7zM374.3 110.8h1.7v1.7h-1.7zM385.6 45.8h1.7v1.7h-1.7zM358.9 42.2h1.7v1.7h-1.7zM386.2 114.6h1.7v1.7h-1.7zM356.3 53.0h1.7v1.7h-1.7zM376.7 38.2h1.7v1.7h-1.7zM374.6 40.3h1.7v1.7h-1.7zM378.7 112.7h1.7v1.7h-1.7zM382.0 113.7h1.7v1.7h-1.7zM364.2 113.7h1.7v1.7h-1.7zM383.2 113.4h1.7v1.7h-1.7zM356.1 50.8h1.7v1.7h-1.7zM349.8 121.2h1.7v1.7h-1.7zM368.5 41.8h1.7v1.7h-1.7zM364.8 109.9h1.7v1.7h-1.7zM384.7 116.3h1.7v1.7h-1.7zM361.3 51.1h1.7v1.7h-1.7zM382.8 117.4h1.7v1.7h-1.7zM379.8 115.0h1.7v1.7h-1.7zM361.3 110.9h1.7v1.7h-1.7zM372.1 38.1h1.7v1.7h-1.7zM367.6 39.6h1.7v1.7h-1.7zM352.7 122.4h1.7v1.7h-1.7zM355.1 120.7h1.7v1.7h-1.7zM382.9 114.5h1.7v1.7h-1.7zM383.9 39.9h1.7v1.7h-1.7zM353.4 54.5h1.7v1.7h-1.7zM381.6 37.7h1.7v1.7h-1.7zM359.1 115.4h1.7v1.7h-1.7zM353.2 51.1h1.7v1.7h-1.7zM357.5 115.6h1.7v1.7h-1.7zM363.2 117.0h1.7v1.7h-1.7zM386.3 46.0h1.7v1.7h-1.7zM379.3 113.1h1.7v1.7h-1.7zM367.0 43.6h1.7v1.7h-1.7zM355.0 118.3h1.7v1.7h-1.7zM385.9 117.9h1.7v1.7h-1.7zM354.5 119.6h1.7v1.7h-1.7zM358.8 112.8h1.7v1.7h-1.7zM367.2 41.9h1.7v1.7h-1.7zM382.4 40.6h1.7v1.7h-1.7zM366.9 111.1h1.7v1.7h-1.7zM362.2 109.7h1.7v1.7h-1.7zM354.7 118.5h1.7v1.7h-1.7zM356.5 117.4h1.7v1.7h-1.7zM355.7 119.3h1.7v1.7h-1.7zM378.5 32.8h1.7v1.7h-1.7zM357.8 117.1h1.7v1.7h-1.7zM385.3 116.6h1.7v1.7h-1.7zM369.2 108.9h1.7v1.7h-1.7zM353.3 123.1h1.7v1.7h-1.7zM374.7 110.3h1.7v1.7h-1.7zM366.7 117.0h1.7v1.7h-1.7zM383.5 40.4h1.7v1.7h-1.7zM370.0 45.0h1.7v1.7h-1.7zM354.7 52.6h1.7v1.7h-1.7zM359.5 50.6h1.7v1.7h-1.7zM377.6 110.9h1.7v1.7h-1.7zM385.7 44.9h1.7v1.7h-1.7zM385.1 44.2h1.7v1.7h-1.7zM361.2 51.4h1.7v1.7h-1.7zM354.2 51.8h1.7v1.7h-1.7zM370.3 111.2h1.7v1.7h-1.7zM362.9 111.6h1.7v1.7h-1.7zM369.6 110.7h1.7v1.7h-1.7zM362.9 109.7h1.7v1.7h-1.7zM385.2 35.9h1.7v1.7h-1.7zM352.0 52.6h1.7v1.7h-1.7zM357.2 115.4h1.7v1.7h-1.7zM380.4 115.2h1.7v1.7h-1.7zM383.7 116.5h1.7v1.7h-1.7zM375.8 41.0h1.7v1.7h-1.7zM365.3 108.3h1.7v1.7h-1.7zM370.5 43.5h1.7v1.7h-1.7zM382.8 118.0h1.7v1.7h-1.7zM350.1 51.9h1.7v1.7h-1.7zM359.5 114.0h1.7v1.7h-1.7zM361.5 111.3h1.7v1.7h-1.7zM375.2 36.3h1.7v1.7h-1.7zM385.7 43.3h1.7v1.7h-1.7zM359.6 51.6h1.7v1.7h-1.7zM373.9 124.7h1.7v1.7h-1.7zM386.1 117.1h1.7v1.7h-1.7zM355.6 119.9h1.7v1.7h-1.7zM362.8 109.6h1.7v1.7h-1.7zM354.8 54.1h1.7v1.7h-1.7zM371.2 108.7h1.7v1.7h-1.7zM368.1 109.6h1.7v1.7h-1.7zM364.8 107.4h1.7v1.7h-1.7zM351.8 53.8h1.7v1.7h-1.7zM377.4 34.9h1.7v1.7h-1.7zM358.5 51.5h1.7v1.7h-1.7zM363.9 45.8h1.7v1.7h-1.7zM358.1 126.4h1.7v1.7h-1.7zM366.3 120.5h1.7v1.7h-1.7zM371.7 37.5h1.7v1.7h-1.7zM353.1 48.1h1.7v1.7h-1.7zM373.3 33.9h1.7v1.7h-1.7zM368.4 115.1h1.7v1.7h-1.7zM350.1 30.9h1.7v1.7h-1.7zM365.1 30.9h1.7v1.7h-1.7zM369.1 30.9h1.7v1.7h-1.7zM372.8 30.9h1.7v1.7h-1.7zM376.1 30.9h1.7v1.7h-1.7zM380.1 30.9h1.7v1.7h-1.7z" fill="#f0900e"/>
<path d="M390.6 53.1 L391.3 52.5 L392.0 52.6 L392.7 49.8 L393.4 48.9 L394.1 50.2 L394.9 49.7 L395.6 49.0 L396.3 47.3 L397.0 48.8 L397.7 46.7 L398.4 47.1 L399.1 45.6 L399.8 44.9 L400.5 46.0 L401.2 44.8 L401.9 47.6 L402.6 45.1 L403.4 44.8 L404.1 46.2 L404.8 44.3 L405.5 45.4 L406.2 46.5 L406.9 45.0 L407.6 43.9 L408.3 44.7 L409.0 43.9 L409.7 45.5 L410.4 43.2 L411.1 43.0 L411.9 44.7 L412.6 45.4 L413.3 44.4 L414.0 42.4 L414.7 42.0 L415.4 44.0 L416.1 43.8 L416.8 43.7 L417.5 44.4 L418.2 41.2 L418.9 43.3 L419.7 42.9 L420.4 43.6 L421.1 41.1 L421.8 42.8 L422.5 40.7 L423.2 43.3 L423.9 41.4 L424.6 42.9 L425.3 42.2 L426.0 42.3 L426.7 41.9 L427.4 41.7 L428.2 41.1 L428.9 41.5 L429.6 40.6 L430.3 41.3 L431.0 40.8 L431.7 39.8 L432.4 39.9 L433.1 41.0 L433.8 40.2 L434.5 41.3 L435.2 39.3 L435.9 39.1 L436.7 40.9 L437.4 41.2 L438.1 40.8 L438.8 40.9 L439.5 42.8 L440.2 41.5 L440.2 108.7 L439.5 110.1 L438.8 108.5 L438.1 108.2 L437.4 107.4 L436.7 107.9 L435.9 108.2 L435.2 106.5 L434.5 106.9 L433.8 105.7 L433.1 107.1 L432.4 106.7 L431.7 105.6 L431.0 105.6 L430.3 104.8 L429.6 103.7 L428.9 104.3 L428.2 103.3 L427.4 103.0 L426.7 101.4 L426.0 103.1 L425.3 102.4 L424.6 101.4 L423.9 100.9 L423.2 100.8 L422.5 98.4 L421.8 96.9 L421.1 97.8 L420.4 98.5 L419.7 96.6 L418.9 98.9 L418.2 96.6 L417.5 97.8 L416.8 97.4 L416.1 97.8 L415.4 97.9 L414.7 98.8 L414.0 98.1 L413.3 100.5 L412.6 99.1 L411.9 101.7 L411.1 103.0 L410.4 103.3 L409.7 104.2 L409.0 106.6 L408.3 107.2 L407.6 107.6 L406.9 107.9 L406.2 107.6 L405.5 111.3 L404.8 109.3 L404.1 111.3 L403.4 111.8 L402.6 113.3 L401.9 112.8 L401.2 114.5 L400.5 113.5 L399.8 114.2 L399.1 117.0 L398.4 116.8 L397.7 117.3 L397.0 117.2 L396.3 118.4 L395.6 117.5 L394.9 117.1 L394.1 117.8 L393.4 120.5 L392.7 117.6 L392.0 117.4 L391.3 117.5 L390.6 114.2Z" fill="#f060a4"/>
<path d="M428.4 107.1h1.7v1.7h-1.7zM421.1 99.1h1.7v1.7h-1.7zM393.2 48.4h1.7v1.7h-1.7zM437.0 111.4h1.7v1.7h-1.7zM437.2 109.0h1.7v1.7h-1.7zM406.6 38.9h1.7v1.7h-1.7zM426.1 39.1h1.7v1.7h-1.7zM403.4 40.6h1.7v1.7h-1.7zM433.8 112.5h1.7v1.7h-1.7zM411.6 41.5h1.7v1.7h-1.7zM437.6 39.5h1.7v1.7h-1.7zM403.9 116.0h1.7v1.7h-1.7zM406.4 113.8h1.7v1.7h-1.7zM411.0 38.3h1.7v1.7h-1.7zM408.5 36.3h1.7v1.7h-1.7zM411.6 39.9h1.7v1.7h-1.7zM402.7 43.0h1.7v1.7h-1.7zM408.7 41.8h1.7v1.7h-1.7zM427.2 36.9h1.7v1.7h-1.7zM420.6 40.9h1.7v1.7h-1.7zM423.0 100.1h1.7v1.7h-1.7zM400.0 121.0h1.7v1.7h-1.7zM401.6 115.0h1.7v1.7h-1.7zM405.9 42.6h1.7v1.7h-1.7zM421.6 100.5h1.7v1.7h-1.7zM396.2 45.7h1.7v1.7h-1.7zM410.5 35.9h1.7v1.7h-1.7zM395.9 117.7h1.7v1.7h-1.7zM431.9 36.6h1.7v1.7h-1.7zM408.6 38.5h1.7v1.7h-1.7zM429.6 35.5h1.7v1.7h-1.7zM413.5 98.3h1.7v1.7h-1.7zM408.7 40.3h1.7v1.7h-1.7zM428.1 106.0h1.7v1.7h-1.7zM409.1 103.9h1.7v1.7h-1.7zM402.9 113.1h1.7v1.7h-1.7zM438.5 38.8h1.7v1.7h-1.7zM400.6 44.6h1.7v1.7h-1.7zM394.7 46.0h1.7v1.7h-1.7zM414.9 38.4h1.7v1.7h-1.7zM415.3 98.3h1.7v1.7h-1.7zM415.1 40.6h1.7v1.7h-1.7zM432.1 32.9h1.7v1.7h-1.7zM407.6 40.6h1.7v1.7h-1.7zM417.6 41.2h1.7v1.7h-1.7zM436.7 38.9h1.7v1.7h-1.7zM422.2 99.8h1.7v1.7h-1.7zM406.2 108.6h1.7v1.7h-1.7zM410.5 103.0h1.7v1.7h-1.7zM409.8 39.8h1.7v1.7h-1.7zM422.6 39.2h1.7v1.7h-1.7zM401.6 114.3h1.7v1.7h-1.7zM430.7 35.7h1.7v1.7h-1.7zM391.6 40.3h1.7v1.7h-1.7zM423.4 101.5h1.7v1.7h-1.7zM413.2 41.8h1.7v1.7h-1.7zM421.6 99.3h1.7v1.7h-1.7zM421.6 38.1h1.7v1.7h-1.7zM398.6 116.1h1.7v1.7h-1.7zM417.0 39.6h1.7v1.7h-1.7zM420.2 39.9h1.7v1.7h-1.7zM423.2 102.1h1.7v1.7h-1.7zM428.2 104.4h1.7v1.7h-1.7zM411.8 102.5h1.7v1.7h-1.7zM426.9 38.6h1.7v1.7h-1.7zM437.4 111.4h1.7v1.7h-1.7zM395.4 117.3h1.7v1.7h-1.7zM435.6 111.3h1.7v1.7h-1.7zM403.3 111.6h1.7v1.7h-1.7zM430.5 104.9h1.7v1.7h-1.7zM433.5 33.4h1.7v1.7h-1.7zM423.7 105.7h1.7v1.7h-1.7zM400.1 114.9h1.7v1.7h-1.7zM391.5 50.0h1.7v1.7h-1.7zM393.8 118.6h1.7v1.7h-1.7zM398.0 44.8h1.7v1.7h-1.7zM435.0 113.2h1.7v1.7h-1.7zM438.4 35.8h1.7v1.7h-1.7zM403.9 115.2h1.7v1.7h-1.7zM425.8 40.2h1.7v1.7h-1.7zM435.2 110.0h1.7v1.7h-1.7zM432.1 35.5h1.7v1.7h-1.7zM412.8 100.4h1.7v1.7h-1.7zM399.8 114.9h1.7v1.7h-1.7zM426.4 103.3h1.7v1.7h-1.7zM424.0 39.9h1.7v1.7h-1.7zM400.8 114.5h1.7v1.7h-1.7zM415.0 97.9h1.7v1.7h-1.7zM426.9 109.1h1.7v1.7h-1.7zM407.6 42.2h1.7v1.7h-1.7zM425.8 103.4h1.7v1.7h-1.7zM415.7 34.3h1.7v1.7h-1.7zM413.2 102.8h1.7v1.7h-1.7zM399.9 115.2h1.7v1.7h-1.7zM429.7 39.0h1.7v1.7h-1.7zM421.1 39.5h1.7v1.7h-1.7zM418.4 39.6h1.7v1.7h-1.7zM390.3 116.4h1.7v1.7h-1.7zM430.6 107.6h1.7v1.7h-1.7zM420.7 36.5h1.7v1.7h-1.7zM404.4 114.2h1.7v1.7h-1.7zM423.2 100.9h1.7v1.7h-1.7zM423.0 99.7h1.7v1.7h-1.7zM395.1 45.3h1.7v1.7h-1.7zM397.5 40.1h1.7v1.7h-1.7zM409.1 42.6h1.7v1.7h-1.7zM418.3 39.4h1.7v1.7h-1.7zM416.4 39.6h1.7v1.7h-1.7zM399.9 40.6h1.7v1.7h-1.7zM417.9 98.1h1.7v1.7h-1.7zM428.2 36.3h1.7v1.7h-1.7zM401.3 115.8h1.7v1.7h-1.7zM408.3 43.1h1.7v1.7h-1.7zM421.5 98.8h1.7v1.7h-1.7zM417.0 97.8h1.7v1.7h-1.7zM431.0 105.2h1.7v1.7h-1.7zM402.3 43.6h1.7v1.7h-1.7zM394.4 47.0h1.7v1.7h-1.7zM404.8 42.6h1.7v1.7h-1.7zM428.6 104.2h1.7v1.7h-1.7zM401.1 43.6h1.7v1.7h-1.7zM395.5 121.7h1.7v1.7h-1.7zM438.6 40.7h1.7v1.7h-1.7zM409.3 42.9h1.7v1.7h-1.7zM436.3 109.5h1.7v1.7h-1.7zM411.5 105.7h1.7v1.7h-1.7zM413.4 40.7h1.7v1.7h-1.7zM433.6 35.4h1.7v1.7h-1.7zM417.5 38.9h1.7v1.7h-1.7zM402.2 118.0h1.7v1.7h-1.7zM394.1 41.6h1.7v1.7h-1.7zM437.8 37.2h1.7v1.7h-1.7zM421.0 100.0h1.7v1.7h-1.7zM396.6 42.9h1.7v1.7h-1.7zM425.6 37.4h1.7v1.7h-1.7zM422.2 98.7h1.7v1.7h-1.7zM411.7 39.9h1.7v1.7h-1.7zM406.6 40.3h1.7v1.7h-1.7zM404.2 110.9h1.7v1.7h-1.7zM416.8 97.9h1.7v1.7h-1.7zM391.5 119.2h1.7v1.7h-1.7zM399.0 43.2h1.7v1.7h-1.7zM410.4 40.7h1.7v1.7h-1.7zM404.8 110.5h1.7v1.7h-1.7zM405.9 113.1h1.7v1.7h-1.7zM409.4 104.2h1.7v1.7h-1.7zM395.6 45.4h1.7v1.7h-1.7zM432.7 37.2h1.7v1.7h-1.7zM427.3 39.8h1.7v1.7h-1.7zM415.5 33.5h1.7v1.7h-1.7zM433.9 36.1h1.7v1.7h-1.7zM410.5 41.1h1.7v1.7h-1.7zM434.7 35.6h1.7v1.7h-1.7zM424.8 32.9h1.7v1.7h-1.7zM395.6 43.4h1.7v1.7h-1.7zM391.2 50.3h1.7v1.7h-1.7zM413.3 41.8h1.7v1.7h-1.7zM401.1 44.5h1.7v1.7h-1.7zM399.7 114.5h1.7v1.7h-1.7zM430.2 38.9h1.7v1.7h-1.7zM402.0 112.3h1.7v1.7h-1.7zM410.1 108.2h1.7v1.7h-1.7zM395.1 43.9h1.7v1.7h-1.7zM418.8 98.2h1.7v1.7h-1.7zM414.4 40.4h1.7v1.7h-1.7zM403.9 111.2h1.7v1.7h-1.7zM403.6 110.8h1.7v1.7h-1.7zM429.2 39.4h1.7v1.7h-1.7zM395.8 119.0h1.7v1.7h-1.7zM425.2 38.9h1.7v1.7h-1.7zM433.6 115.0h1.7v1.7h-1.7zM402.7 114.3h1.7v1.7h-1.7zM400.2 116.8h1.7v1.7h-1.7zM429.6 104.6h1.7v1.7h-1.7zM432.2 38.2h1.7v1.7h-1.7zM420.2 39.2h1.7v1.7h-1.7zM424.9 37.3h1.7v1.7h-1.7zM395.3 44.2h1.7v1.7h-1.7zM423.7 40.1h1.7v1.7h-1.7zM436.9 37.8h1.7v1.7h-1.7zM408.5 108.5h1.7v1.7h-1.7zM421.9 38.4h1.7v1.7h-1.7zM415.3 33.0h1.7v1.7h-1.7zM437.1 122.9h1.7v1.7h-1.7zM412.9 99.3h1.7v1.7h-1.7zM426.3 110.7h1.7v1.7h-1.7zM430.8 105.9h1.7v1.7h-1.7zM428.5 39.1h1.7v1.7h-1.7zM408.2 110.4h1.7v1.7h-1.7zM431.3 105.8h1.7v1.7h-1.7zM397.8 116.3h1.7v1.7h-1.7zM406.6 43.2h1.7v1.7h-1.7zM425.1 34.9h1.7v1.7h-1.7zM406.2 108.4h1.7v1.7h-1.7zM403.3 44.3h1.7v1.7h-1.7zM411.4 42.7h1.7v1.7h-1.7zM432.1 39.2h1.7v1.7h-1.7zM436.9 38.6h1.7v1.7h-1.7zM391.4 46.6h1.7v1.7h-1.7zM418.5 98.1h1.7v1.7h-1.7zM404.2 111.3h1.7v1.7h-1.7zM438.3 109.1h1.7v1.7h-1.7zM431.5 35.7h1.7v1.7h-1.7zM429.6 106.8h1.7v1.7h-1.7zM429.8 37.6h1.7v1.7h-1.7zM403.2 43.7h1.7v1.7h-1.7zM424.7 105.2h1.7v1.7h-1.7zM420.8 105.6h1.7v1.7h-1.7zM429.7 105.6h1.7v1.7h-1.7zM435.3 38.0h1.7v1.7h-1.7zM406.4 115.1h1.7v1.7h-1.7zM421.6 106.7h1.7v1.7h-1.7zM426.9 33.3h1.7v1.7h-1.7zM420.2 105.7h1.7v1.7h-1.7zM423.3 106.3h1.7v1.7h-1.7zM397.2 36.9h1.7v1.7h-1.7zM435.9 117.1h1.7v1.7h-1.7zM428.5 111.2h1.7v1.7h-1.7zM401.1 30.9h1.7v1.7h-1.7zM415.1 30.9h1.7v1.7h-1.7zM419.1 30.9h1.7v1.7h-1.7zM426.1 30.9h1.7v1.7h-1.7zM429.1 30.9h1.7v1.7h-1.7zM438.1 30.9h1.7v1.7h-1.7z" fill="#f060a4"/>
<path d="M442.6 54.2 L443.3 54.0 L444.0 54.8 L444.7 53.8 L445.4 52.2 L446.2 50.7 L446.9 50.9 L447.6 51.1 L448.3 51.3 L449.0 49.8 L449.7 49.1 L450.4 49.1 L451.1 51.4 L451.8 51.5 L452.5 49.9 L453.3 47.7 L454.0 48.2 L454.7 47.2 L455.4 47.7 L456.1 47.3 L456.8 47.8 L457.5 46.8 L458.2 46.3 L458.9 47.0 L459.7 43.5 L460.4 44.9 L461.1 45.2 L461.8 44.6 L462.5 43.0 L463.2 41.6 L463.9 42.2 L464.6 41.5 L465.3 41.1 L466.1 40.6 L466.8 38.9 L467.5 40.6 L468.2 41.9 L468.9 40.3 L469.6 40.5 L470.3 42.1 L471.0 40.9 L471.7 40.7 L472.4 41.3 L473.2 44.7 L473.9 45.0 L474.6 47.7 L475.3 49.1 L476.0 50.7 L476.0 115.1 L475.3 112.8 L474.6 113.1 L473.9 111.9 L473.2 111.6 L472.4 112.7 L471.7 112.8 L471.0 112.8 L470.3 110.2 L469.6 112.6 L468.9 112.6 L468.2 112.7 L467.5 113.2 L466.8 112.5 L466.1 114.4 L465.3 114.3 L464.6 114.6 L463.9 112.8 L463.2 114.4 L462.5 113.3 L461.8 112.9 L461.1 114.9 L460.4 113.2 L459.7 115.2 L458.9 114.9 L458.2 115.4 L457.5 113.1 L456.8 115.3 L456.1 113.2 L455.4 114.5 L454.7 114.8 L454.0 115.2 L453.3 114.5 L452.5 115.3 L451.8 116.2 L451.1 115.9 L450.4 115.1 L449.7 114.2 L449.0 115.1 L448.3 117.0 L447.6 114.6 L446.9 115.4 L446.2 114.6 L445.4 113.6 L444.7 115.1 L444.0 113.7 L443.3 113.4 L442.6 112.1Z" fill="#0ab9e6"/>
<path d="M467.5 112.7h1.7v1.7h-1.7zM459.0 42.3h1.7v1.7h-1.7zM468.3 36.7h1.7v1.7h-1.7zM467.3 111.9h1.7v1.7h-1.7zM451.0 40.5h1.7v1.7h-1.7zM447.5 116.5h1.7v1.7h-1.7zM460.0 113.6h1.7v1.7h-1.7zM452.9 47.3h1.7v1.7h-1.7zM452.1 117.1h1.7v1.7h-1.7zM446.2 116.6h1.7v1.7h-1.7zM446.9 119.9h1.7v1.7h-1.7zM449.3 120.0h1.7v1.7h-1.7zM449.7 43.2h1.7v1.7h-1.7zM469.0 34.8h1.7v1.7h-1.7zM467.3 117.2h1.7v1.7h-1.7zM474.2 41.4h1.7v1.7h-1.7zM472.1 38.6h1.7v1.7h-1.7zM464.4 115.1h1.7v1.7h-1.7zM451.2 46.3h1.7v1.7h-1.7zM446.6 121.2h1.7v1.7h-1.7zM450.1 118.2h1.7v1.7h-1.7zM446.2 118.9h1.7v1.7h-1.7zM452.2 47.1h1.7v1.7h-1.7zM467.3 34.1h1.7v1.7h-1.7zM447.4 48.4h1.7v1.7h-1.7zM470.8 40.5h1.7v1.7h-1.7zM466.6 35.8h1.7v1.7h-1.7zM445.0 47.1h1.7v1.7h-1.7zM470.6 38.8h1.7v1.7h-1.7zM443.3 51.2h1.7v1.7h-1.7zM467.8 116.3h1.7v1.7h-1.7zM459.5 113.9h1.7v1.7h-1.7zM454.7 45.7h1.7v1.7h-1.7zM466.2 38.0h1.7v1.7h-1.7zM451.4 117.7h1.7v1.7h-1.7zM457.8 36.8h1.7v1.7h-1.7zM472.7 40.9h1.7v1.7h-1.7zM470.2 39.3h1.7v1.7h-1.7zM445.6 118.7h1.7v1.7h-1.7zM447.3 35.7h1.7v1.7h-1.7zM457.8 38.9h1.7v1.7h-1.7zM471.2 40.8h1.7v1.7h-1.7zM462.9 120.7h1.7v1.7h-1.7zM463.6 38.0h1.7v1.7h-1.7zM451.6 46.5h1.7v1.7h-1.7zM471.8 119.6h1.7v1.7h-1.7zM457.7 114.2h1.7v1.7h-1.7zM472.1 118.1h1.7v1.7h-1.7zM455.6 114.0h1.7v1.7h-1.7zM469.7 112.7h1.7v1.7h-1.7zM469.1 35.0h1.7v1.7h-1.7zM457.4 44.0h1.7v1.7h-1.7zM468.2 111.9h1.7v1.7h-1.7zM473.9 44.9h1.7v1.7h-1.7zM455.7 120.6h1.7v1.7h-1.7zM472.9 113.6h1.7v1.7h-1.7zM445.7 47.8h1.7v1.7h-1.7zM455.7 44.4h1.7v1.7h-1.7zM447.8 117.7h1.7v1.7h-1.7zM459.8 42.0h1.7v1.7h-1.7zM452.5 46.2h1.7v1.7h-1.7zM474.0 113.4h1.7v1.7h-1.7zM444.0 50.0h1.7v1.7h-1.7zM467.6 112.6h1.7v1.7h-1.7zM467.5 36.8h1.7v1.7h-1.7zM459.5 42.9h1.7v1.7h-1.7zM463.9 114.2h1.7v1.7h-1.7zM472.0 113.0h1.7v1.7h-1.7zM444.4 117.1h1.7v1.7h-1.7zM449.5 47.3h1.7v1.7h-1.7zM443.4 116.5h1.7v1.7h-1.7zM451.3 47.8h1.7v1.7h-1.7zM448.3 44.5h1.7v1.7h-1.7zM456.9 115.1h1.7v1.7h-1.7zM468.4 114.8h1.7v1.7h-1.7zM455.0 114.7h1.7v1.7h-1.7zM473.8 114.9h1.7v1.7h-1.7zM462.9 39.4h1.7v1.7h-1.7zM449.7 114.9h1.7v1.7h-1.7zM456.7 118.4h1.7v1.7h-1.7zM465.5 38.4h1.7v1.7h-1.7zM465.1 35.4h1.7v1.7h-1.7zM453.6 116.8h1.7v1.7h-1.7zM468.7 112.9h1.7v1.7h-1.7zM474.2 40.7h1.7v1.7h-1.7zM443.2 115.0h1.7v1.7h-1.7zM467.2 38.4h1.7v1.7h-1.7zM467.7 116.0h1.7v1.7h-1.7zM458.1 39.8h1.7v1.7h-1.7zM449.3 49.3h1.7v1.7h-1.7zM450.6 119.1h1.7v1.7h-1.7zM462.9 36.7h1.7v1.7h-1.7zM463.9 37.7h1.7v1.7h-1.7zM461.6 113.9h1.7v1.7h-1.7zM452.3 47.8h1.7v1.7h-1.7zM453.5 116.8h1.7v1.7h-1.7zM447.9 115.4h1.7v1.7h-1.7zM466.6 38.8h1.7v1.7h-1.7zM450.4 115.7h1.7v1.7h-1.7zM470.9 112.4h1.7v1.7h-1.7zM466.5 114.5h1.7v1.7h-1.7zM450.5 124.2h1.7v1.7h-1.7zM442.7 51.5h1.7v1.7h-1.7zM448.7 42.6h1.7v1.7h-1.7zM443.0 114.5h1.7v1.7h-1.7zM442.7 114.3h1.7v1.7h-1.7zM449.1 48.0h1.7v1.7h-1.7zM446.1 49.1h1.7v1.7h-1.7zM461.0 40.9h1.7v1.7h-1.7zM459.3 117.4h1.7v1.7h-1.7zM453.4 119.0h1.7v1.7h-1.7zM460.5 41.2h1.7v1.7h-1.7zM446.6 117.4h1.7v1.7h-1.7zM445.4 120.8h1.7v1.7h-1.7zM443.3 114.4h1.7v1.7h-1.7zM459.6 114.8h1.7v1.7h-1.7zM458.4 114.3h1.7v1.7h-1.7zM448.3 115.2h1.7v1.7h-1.7zM451.1 48.2h1.7v1.7h-1.7zM459.4 38.5h1.7v1.7h-1.7zM445.4 120.1h1.7v1.7h-1.7zM446.4 45.6h1.7v1.7h-1.7zM457.5 115.0h1.7v1.7h-1.7zM455.1 115.3h1.7v1.7h-1.7zM473.6 113.2h1.7v1.7h-1.7zM459.9 113.8h1.7v1.7h-1.7zM469.8 115.4h1.7v1.7h-1.7zM445.6 118.1h1.7v1.7h-1.7zM452.5 116.0h1.7v1.7h-1.7zM454.7 116.0h1.7v1.7h-1.7zM468.6 36.8h1.7v1.7h-1.7zM443.1 52.0h1.7v1.7h-1.7zM470.1 112.8h1.7v1.7h-1.7zM473.8 122.0h1.7v1.7h-1.7zM444.9 118.0h1.7v1.7h-1.7zM461.9 33.6h1.7v1.7h-1.7zM456.5 118.9h1.7v1.7h-1.7zM451.2 40.9h1.7v1.7h-1.7zM451.0 48.3h1.7v1.7h-1.7zM474.5 113.6h1.7v1.7h-1.7zM447.0 118.0h1.7v1.7h-1.7zM461.1 40.3h1.7v1.7h-1.7zM444.5 120.8h1.7v1.7h-1.7zM472.7 124.0h1.7v1.7h-1.7zM444.1 123.7h1.7v1.7h-1.7zM453.1 30.9h1.7v1.7h-1.7zM465.1 30.9h1.7v1.7h-1.7zM473.1 30.9h1.7v1.7h-1.7z" fill="#0ab9e6"/>
<path d="M478.5 65.4 L479.2 64.5 L479.9 61.4 L480.6 60.9 L481.3 60.2 L482.0 59.2 L482.7 59.8 L483.4 55.9 L484.1 55.9 L484.8 55.4 L485.5 56.2 L486.2 55.4 L486.9 54.2 L487.6 52.2 L488.3 51.2 L489.0 51.7 L489.7 49.6 L490.4 51.0 L491.1 50.8 L491.8 47.7 L492.5 48.6 L493.2 48.2 L493.9 49.0 L494.6 51.4 L495.3 51.7 L496.0 52.4 L496.7 53.8 L497.4 54.4 L498.1 55.5 L498.8 55.2 L499.5 53.8 L500.2 53.8 L500.9 49.1 L501.6 48.9 L502.3 48.1 L503.0 45.6 L503.7 46.2 L504.4 44.1 L505.1 44.9 L505.8 47.5 L506.5 46.1 L507.2 48.7 L507.9 50.5 L508.6 52.1 L509.3 55.6 L509.3 109.7 L508.6 109.8 L507.9 108.8 L507.2 110.4 L506.5 109.1 L505.8 111.3 L505.1 109.1 L504.4 110.7 L503.7 112.4 L503.0 109.7 L502.3 111.1 L501.6 111.6 L500.9 112.7 L500.2 110.9 L499.5 112.0 L498.8 112.4 L498.1 113.2 L497.4 113.1 L496.7 112.6 L496.0 114.9 L495.3 114.7 L494.6 115.3 L493.9 115.3 L493.2 116.4 L492.5 116.6 L491.8 114.9 L491.1 115.3 L490.4 117.9 L489.7 116.8 L489.0 118.5 L488.3 118.1 L487.6 119.0 L486.9 119.6 L486.2 120.4 L485.5 120.8 L484.8 120.4 L484.1 121.6 L483.4 123.2 L482.7 123.8 L482.0 125.6 L481.3 125.6 L480.6 123.7 L479.9 121.2 L479.2 120.5 L478.5 118.4Z" fill="#24d262"/>
<path d="M499.5 50.3h1.7v1.7h-1.7zM480.0 123.3h1.7v1.7h-1.7zM502.3 112.7h1.7v1.7h-1.7zM504.7 112.7h1.7v1.7h-1.7zM481.1 126.7h1.7v1.7h-1.7zM485.6 122.9h1.7v1.7h-1.7zM481.8 55.9h1.7v1.7h-1.7zM495.2 49.5h1.7v1.7h-1.7zM502.4 40.9h1.7v1.7h-1.7zM488.0 126.3h1.7v1.7h-1.7zM487.9 117.6h1.7v1.7h-1.7zM490.4 119.1h1.7v1.7h-1.7zM488.4 49.5h1.7v1.7h-1.7zM494.9 49.6h1.7v1.7h-1.7zM496.6 115.1h1.7v1.7h-1.7zM485.7 119.7h1.7v1.7h-1.7zM501.5 45.6h1.7v1.7h-1.7zM491.2 116.2h1.7v1.7h-1.7zM483.9 53.8h1.7v1.7h-1.7zM488.1 46.0h1.7v1.7h-1.7zM490.2 46.6h1.7v1.7h-1.7zM501.2 112.8h1.7v1.7h-1.7zM505.6 34.2h1.7v1.7h-1.7zM493.8 115.8h1.7v1.7h-1.7zM486.2 45.6h1.7v1.7h-1.7zM488.9 118.6h1.7v1.7h-1.7zM493.8 48.4h1.7v1.7h-1.7zM488.2 119.5h1.7v1.7h-1.7zM478.2 121.8h1.7v1.7h-1.7zM480.2 58.4h1.7v1.7h-1.7zM502.7 111.8h1.7v1.7h-1.7zM485.6 51.8h1.7v1.7h-1.7zM488.5 121.7h1.7v1.7h-1.7zM499.0 115.1h1.7v1.7h-1.7zM481.5 56.9h1.7v1.7h-1.7zM485.8 123.8h1.7v1.7h-1.7zM495.6 51.0h1.7v1.7h-1.7zM507.4 109.8h1.7v1.7h-1.7zM479.5 123.2h1.7v1.7h-1.7zM503.4 40.2h1.7v1.7h-1.7zM488.8 117.9h1.7v1.7h-1.7zM481.2 53.0h1.7v1.7h-1.7zM507.3 112.0h1.7v1.7h-1.7zM486.6 51.5h1.7v1.7h-1.7zM507.5 48.0h1.7v1.7h-1.7zM488.6 48.0h1.7v1.7h-1.7zM505.9 45.3h1.7v1.7h-1.7zM496.9 114.9h1.7v1.7h-1.7zM483.5 122.4h1.7v1.7h-1.7zM483.3 53.0h1.7v1.7h-1.7zM492.3 118.9h1.7v1.7h-1.7zM504.8 44.7h1.7v1.7h-1.7zM502.9 42.5h1.7v1.7h-1.7zM482.4 128.0h1.7v1.7h-1.7zM482.0 51.1h1.7v1.7h-1.7zM498.7 49.2h1.7v1.7h-1.7zM501.8 45.3h1.7v1.7h-1.7zM497.8 54.4h1.7v1.7h-1.7zM483.1 55.1h1.7v1.7h-1.7zM489.6 118.8h1.7v1.7h-1.7zM490.2 116.4h1.7v1.7h-1.7zM488.0 123.2h1.7v1.7h-1.7zM505.6 111.7h1.7v1.7h-1.7zM501.6 111.4h1.7v1.7h-1.7zM485.8 46.3h1.7v1.7h-1.7zM487.7 48.2h1.7v1.7h-1.7zM481.2 129.9h1.7v1.7h-1.7zM501.9 112.1h1.7v1.7h-1.7zM482.5 126.9h1.7v1.7h-1.7zM489.2 48.6h1.7v1.7h-1.7zM502.9 38.6h1.7v1.7h-1.7zM488.3 47.9h1.7v1.7h-1.7zM500.4 112.7h1.7v1.7h-1.7zM498.8 46.4h1.7v1.7h-1.7zM500.8 112.6h1.7v1.7h-1.7zM486.3 122.9h1.7v1.7h-1.7zM487.2 50.4h1.7v1.7h-1.7zM506.9 43.7h1.7v1.7h-1.7zM493.9 116.6h1.7v1.7h-1.7zM490.4 116.3h1.7v1.7h-1.7zM505.6 45.1h1.7v1.7h-1.7zM498.2 117.1h1.7v1.7h-1.7zM498.8 112.1h1.7v1.7h-1.7zM478.5 57.3h1.7v1.7h-1.7zM482.7 127.5h1.7v1.7h-1.7zM482.8 129.9h1.7v1.7h-1.7zM500.4 46.6h1.7v1.7h-1.7zM486.4 122.6h1.7v1.7h-1.7zM498.4 49.3h1.7v1.7h-1.7zM492.7 116.3h1.7v1.7h-1.7zM504.4 111.8h1.7v1.7h-1.7zM494.9 116.0h1.7v1.7h-1.7zM506.8 41.5h1.7v1.7h-1.7zM499.4 45.2h1.7v1.7h-1.7zM482.6 52.4h1.7v1.7h-1.7zM497.5 54.5h1.7v1.7h-1.7zM480.4 125.1h1.7v1.7h-1.7zM485.9 52.1h1.7v1.7h-1.7zM505.2 112.1h1.7v1.7h-1.7zM491.4 44.1h1.7v1.7h-1.7zM488.5 126.4h1.7v1.7h-1.7zM499.8 111.8h1.7v1.7h-1.7zM481.8 56.6h1.7v1.7h-1.7zM490.7 121.2h1.7v1.7h-1.7zM506.7 47.4h1.7v1.7h-1.7zM478.8 61.1h1.7v1.7h-1.7zM493.9 45.7h1.7v1.7h-1.7zM494.9 114.9h1.7v1.7h-1.7zM500.0 115.3h1.7v1.7h-1.7zM492.2 45.2h1.7v1.7h-1.7zM479.3 57.6h1.7v1.7h-1.7zM483.7 128.1h1.7v1.7h-1.7zM503.6 112.3h1.7v1.7h-1.7zM483.4 51.1h1.7v1.7h-1.7zM507.5 50.8h1.7v1.7h-1.7zM488.7 46.9h1.7v1.7h-1.7zM481.5 125.9h1.7v1.7h-1.7zM505.2 44.1h1.7v1.7h-1.7zM483.4 124.8h1.7v1.7h-1.7zM502.8 41.6h1.7v1.7h-1.7zM500.0 119.8h1.7v1.7h-1.7zM481.2 37.7h1.7v1.7h-1.7zM494.1 115.1h1.7v1.7h-1.7zM478.9 122.2h1.7v1.7h-1.7zM494.9 48.1h1.7v1.7h-1.7zM506.0 115.5h1.7v1.7h-1.7zM485.8 118.7h1.7v1.7h-1.7zM490.6 116.8h1.7v1.7h-1.7zM489.1 117.5h1.7v1.7h-1.7zM499.3 112.1h1.7v1.7h-1.7zM505.6 42.0h1.7v1.7h-1.7zM488.5 49.5h1.7v1.7h-1.7zM507.9 110.1h1.7v1.7h-1.7zM501.5 124.4h1.7v1.7h-1.7zM494.0 38.0h1.7v1.7h-1.7zM506.9 120.1h1.7v1.7h-1.7zM493.5 30.9h1.7v1.7h-1.7zM507.1 30.9h1.7v1.7h-1.7z" fill="#24d262"/>
<path d="M58.5 134.8h1.7v1.7h-1.7zM67.2 122.6h1.7v1.7h-1.7zM89.2 123.8h1.7v1.7h-1.7zM263.8 128.6h1.7v1.7h-1.7zM273.8 131.8h1.7v1.7h-1.7zM397.1 126.2h1.7v1.7h-1.7zM392.1 123.2h1.7v1.7h-1.7zM422.1 114.2h1.7v1.7h-1.7z" fill="#f060a4"/>
<path d="M283.8 126.2h1.7v1.7h-1.7zM283.8 135.6h1.7v1.7h-1.7zM446.1 123.8h1.7v1.7h-1.7zM459.1 126.6h1.7v1.7h-1.7zM470.1 125.2h1.7v1.7h-1.7zM472.5 125.2h1.7v1.7h-1.7z" fill="#0ab9e6"/>
<path d="M146.8 122.2h1.7v1.7h-1.7zM151.2 126.2h1.7v1.7h-1.7zM149.2 130.6h1.7v1.7h-1.7zM150.8 134.2h1.7v1.7h-1.7zM159.2 132.2h1.7v1.7h-1.7zM166.2 131.2h1.7v1.7h-1.7zM171.2 128.2h1.7v1.7h-1.7zM175.2 130.2h1.7v1.7h-1.7zM175.6 132.6h1.7v1.7h-1.7zM319.1 120.8h1.7v1.7h-1.7zM322.1 121.2h1.7v1.7h-1.7zM482.5 130.2h1.7v1.7h-1.7zM488.5 126.2h1.7v1.7h-1.7zM497.1 127.2h1.7v1.7h-1.7zM499.1 119.2h1.7v1.7h-1.7z" fill="#24d262"/>
<path d="M354.8 124.6h1.7v1.7h-1.7zM383.1 124.2h1.7v1.7h-1.7z" fill="#f0900e"/>
<path d="M26.7 87.7H541.3" stroke="#858585" stroke-width="0.9" stroke-dasharray="3.9 3.7" fill="none" opacity="0.85"/>
<path d="M26.7 57.3H541.3" stroke="#ea3b3b" stroke-width="1.45" stroke-dasharray="4.4 4.1" fill="none"/>
<path d="M59.0 85.3C60.5 84.7 65.0 83.0 67.7 81.5C70.4 80.0 73.2 77.6 75.3 76.5C77.4 75.4 78.7 75.6 80.3 74.8C81.9 74.0 83.1 71.7 84.8 71.5C86.5 71.3 88.0 72.9 90.3 73.5C92.5 74.1 97.0 75.0 98.3 75.3" stroke="#0a0a0a" stroke-width="1.4" fill="none" stroke-linecap="round" stroke-linejoin="round"/>
<path d="M101.3 82.7C101.9 83.3 103.5 84.8 105.0 86.5C106.5 88.2 108.3 91.2 110.0 92.8C111.7 94.3 113.1 95.8 115.0 95.8C116.9 95.8 118.9 93.5 121.4 92.8C123.9 92.1 127.3 92.5 130.0 91.5C132.7 90.5 135.5 88.7 137.7 86.5C139.9 84.3 142.3 79.6 143.2 78.2" stroke="#0a0a0a" stroke-width="1.4" fill="none" stroke-linecap="round" stroke-linejoin="round"/>
<path d="M147.7 89.0C149.0 88.2 153.2 84.4 155.7 84.0C158.2 83.6 160.6 85.5 162.8 86.5C165.0 87.5 166.9 89.4 169.0 89.7C171.1 90.0 172.8 87.6 175.3 88.2C177.8 88.8 181.7 92.6 184.0 93.3C186.3 94.0 188.2 92.5 189.0 92.3" stroke="#0a0a0a" stroke-width="1.4" fill="none" stroke-linecap="round" stroke-linejoin="round"/>
<path d="M192.9 85.7C194.3 86.5 198.7 89.9 201.6 90.2C204.5 90.5 207.2 89.1 210.4 87.7C213.6 86.3 217.7 84.0 220.5 82.0C223.3 80.0 225.7 77.2 227.5 75.7C229.3 74.2 229.6 72.6 231.3 72.7C233.0 72.8 236.6 75.8 237.6 76.4" stroke="#0a0a0a" stroke-width="1.4" fill="none" stroke-linecap="round" stroke-linejoin="round"/>
<path d="M241.3 85.2C242.6 83.2 246.8 74.2 248.9 73.2C251.0 72.2 251.8 77.3 253.9 79.0C256.0 80.7 259.3 82.4 261.4 83.2C263.5 84.0 264.5 83.0 266.4 84.0C268.3 85.0 270.6 88.7 272.7 89.0C274.8 89.3 277.9 86.2 279.0 85.7" stroke="#0a0a0a" stroke-width="1.4" fill="none" stroke-linecap="round" stroke-linejoin="round"/>
<path d="M282.7 91.5C283.9 90.0 288.1 84.5 290.2 82.7C292.3 80.9 293.6 81.1 295.3 80.7C297.0 80.3 298.4 81.1 300.3 80.2C302.2 79.3 304.7 76.5 306.6 75.2C308.5 73.9 310.1 72.6 311.6 72.2C313.1 71.8 315.1 72.6 315.8 72.7" stroke="#0a0a0a" stroke-width="1.4" fill="none" stroke-linecap="round" stroke-linejoin="round"/>
<path d="M319.1 81.5C319.7 81.3 321.4 81.9 322.9 80.2C324.4 78.5 326.2 74.3 327.9 71.4C329.6 68.5 331.2 64.1 332.9 62.6C334.6 61.1 336.2 63.4 337.9 62.6C339.6 61.8 341.4 59.3 342.9 57.6C344.4 55.9 346.1 53.4 346.7 52.6" stroke="#0a0a0a" stroke-width="1.4" fill="none" stroke-linecap="round" stroke-linejoin="round"/>
<path d="M350.0 86.5C350.9 87.0 353.3 90.5 355.6 89.7C357.9 88.9 361.0 83.2 363.8 81.5C366.6 79.8 369.9 80.7 372.6 79.7C375.3 78.7 377.7 75.5 380.1 75.7C382.5 75.9 386.0 79.9 387.2 80.7" stroke="#0a0a0a" stroke-width="1.4" fill="none" stroke-linecap="round" stroke-linejoin="round"/>
<path d="M390.9 88.2C392.0 87.1 395.1 83.8 397.7 81.5C400.3 79.2 403.1 76.3 406.5 74.7C409.9 73.1 414.7 72.1 417.8 71.9C420.9 71.7 421.8 73.3 425.3 73.4C428.9 73.5 436.8 72.8 439.1 72.7" stroke="#0a0a0a" stroke-width="1.4" fill="none" stroke-linecap="round" stroke-linejoin="round"/>
<path d="M443.4 86.6C444.4 86.6 447.5 87.3 449.6 86.6C451.7 85.9 453.8 82.9 455.9 82.3C458.0 81.7 460.0 83.3 462.2 82.8C464.4 82.3 467.0 79.3 469.2 79.5C471.4 79.7 474.2 83.2 475.2 84.0" stroke="#0a0a0a" stroke-width="1.4" fill="none" stroke-linecap="round" stroke-linejoin="round"/>
<path d="M479.7 96.6C480.6 95.5 482.7 92.6 484.8 90.3C486.9 88.0 490.0 83.8 492.3 82.8C494.6 81.8 496.5 84.4 498.6 84.0C500.7 83.6 503.1 81.1 504.8 80.3C506.5 79.5 508.0 79.2 508.6 79.0" stroke="#0a0a0a" stroke-width="1.4" fill="none" stroke-linecap="round" stroke-linejoin="round"/>
<path d="M25.099999999999998 32.1H26.7 M25.099999999999998 59.9H26.7 M25.099999999999998 87.8H26.7 M25.099999999999998 115.7H26.7 M78.3 141.3v1.6 M122.2 141.3v1.6 M167.8 141.3v1.6 M214.9 141.3v1.6 M259.9 141.3v1.6 M298.5 141.3v1.6 M332.8 141.3v1.6 M369 141.3v1.6 M415.7 141.3v1.6 M459.2 141.3v1.6 M494.1 141.3v1.6" stroke="#444" stroke-width="0.5" fill="none"/>
<text x="24" y="33.8" font-size="4.9" text-anchor="end" fill="#3a3a3a" stroke="#3a3a3a" stroke-width="0.12">1.0</text>
<text x="24" y="61.6" font-size="4.9" text-anchor="end" fill="#3a3a3a" stroke="#3a3a3a" stroke-width="0.12">0.5</text>
<text x="24" y="89.5" font-size="4.9" text-anchor="end" fill="#3a3a3a" stroke="#3a3a3a" stroke-width="0.12">0.0</text>
<text x="24" y="117.4" font-size="4.9" text-anchor="end" fill="#3a3a3a" stroke="#3a3a3a" stroke-width="0.12">-0.5</text>
<text transform="translate(12 84.4) rotate(-90)" font-size="6.1" text-anchor="middle" fill="#333">ΔSNP-index</text>
<text transform="translate(79.8 147.8) rotate(-45)" font-size="5" font-weight="bold" text-anchor="end" fill="#444">Chr01</text>
<text transform="translate(123.7 147.8) rotate(-45)" font-size="5" font-weight="bold" text-anchor="end" fill="#444">Chr02</text>
<text transform="translate(169.3 147.8) rotate(-45)" font-size="5" font-weight="bold" text-anchor="end" fill="#444">Chr03</text>
<text transform="translate(216.4 147.8) rotate(-45)" font-size="5" font-weight="bold" text-anchor="end" fill="#444">Chr04</text>
<text transform="translate(261.4 147.8) rotate(-45)" font-size="5" font-weight="bold" text-anchor="end" fill="#444">Chr06</text>
<text transform="translate(300.0 147.8) rotate(-45)" font-size="5" font-weight="bold" text-anchor="end" fill="#444">Chr07</text>
<text transform="translate(334.3 147.8) rotate(-45)" font-size="5" font-weight="bold" text-anchor="end" fill="#444">Chr09</text>
<text transform="translate(370.5 147.8) rotate(-45)" font-size="5" font-weight="bold" text-anchor="end" fill="#444">Chr10</text>
<text transform="translate(417.2 147.8) rotate(-45)" font-size="5" font-weight="bold" text-anchor="end" fill="#444">chr05</text>
<text transform="translate(460.7 147.8) rotate(-45)" font-size="5" font-weight="bold" text-anchor="end" fill="#444">chr08</text>
<text transform="translate(495.6 147.8) rotate(-45)" font-size="5" font-weight="bold" text-anchor="end" fill="#444">chr11</text>
<!-- yellow connectors from plot -->
<g fill="none" stroke="#efcc3c" stroke-width="0.9" stroke-dasharray="4.5 2.3">
<path d="M340.6 27V166.8L53.4 192.5" stroke="#f3db78" stroke-dasharray="7 2.2"/>
<path d="M348.2 27V166.8L503 192.3" stroke="#f3db78" stroke-dasharray="7 2.2"/>
<path d="M234.2 222V236L35 263.5" stroke-width="1.35"/>
<path d="M380.6 222V234.6L475.4 275.3" stroke-width="1.35"/>
</g>
<text x="12.9" y="202.6" font-size="14.3" font-weight="bold" fill="#111" textLength="7.2" lengthAdjust="spacingAndGlyphs">B</text>
<!-- upper map -->
<path d="M53.6 221.5H496.4M88.2 210.6V221.5M234.1 210.6V221.5M380.6 208.9V221.5" stroke="#111" stroke-width="1.2" fill="none"/>
<g font-size="9.7" fill="#1a1a1a" stroke="#1a1a1a" stroke-width="0.12">
<text x="73.4" y="202.5">KS14.5</text>
<text x="216" y="202.6">KS16.5</text>
<text x="368.6" y="203.8">KS18.5</text>
<text x="471.6" y="205">KS19.9</text>
<text x="66.4" y="237.9">13.95Mb</text>
<text x="468.4" y="237.8">19.96Mb</text>
<text x="75.6" y="303.2">16.5Mb</text>
<text x="353.8" y="301.6">18.5Mb</text>
</g>
<g font-size="11.3" fill="#1a1a1a" stroke="#1a1a1a" stroke-width="0.15">
<text x="13" y="225.7">Chr09</text>
<text x="6.8" y="286.5">Chr09</text>
</g>
<!-- lower map -->
<path d="M53 285L441.6 286.3" stroke="#111" stroke-width="1.2" fill="none"/>
<path d="M61 277.6V285M91.1 277.6V285.1M157.3 277.8V285.4M184.9 277.8V285.5M223.6 277.6V285.6M270.4 277.3V285.8M325.3 277.3V286M341.6 277.8V286M370 278.3V286.1M436 278.3V286.3" stroke="#111" stroke-width="1.15" fill="none"/>
<g font-size="7.25" fill="#1a1a1a" stroke="#1a1a1a" stroke-width="0.12">
<text x="47.6" y="271.6">IS16.25</text>
<text x="79.8" y="271.6">KS16.5</text>
<text x="141.8" y="271.6">IS16.94</text>
<text x="173.2" y="271.6">IS17.15</text>
<text x="207.3" y="270.8">IS17.47</text>
<text x="255" y="270.8">IS17.74</text>
<text x="302.7" y="269.6">IS18.18</text>
<text x="329.8" y="269.6">IS18.28</text>
<text x="361.3" y="269.8">KS18.5</text>
<text x="425.7" y="272.9">IS18.9</text>
</g>
<!-- bars -->
<rect x="51.2" y="312.65" width="387.8" height="5.4" fill="#000"/>
<rect x="50.400000000000006" y="323.85" width="389.0" height="6.0" fill="#fff" stroke="#111" stroke-width="0.9"/>
<rect x="51.2" y="337.00" width="387.8" height="5.4" fill="#b3b3b3"/>
<rect x="51.2" y="349.40" width="274.1" height="5.4" fill="#000"/>
<rect x="325.3" y="349.40" width="113.7" height="5.4" fill="#b3b3b3"/>
<rect x="51.2" y="362.10" width="220.2" height="5.4" fill="#b3b3b3"/>
<rect x="271.4" y="362.10" width="167.6" height="5.4" fill="#000"/>
<rect x="51.2" y="374.60" width="220.2" height="5.4" fill="#b3b3b3"/>
<rect x="271.4" y="374.60" width="167.6" height="5.4" fill="#000"/>
<rect x="51.2" y="387.40" width="274.1" height="5.4" fill="#000"/>
<rect x="325.3" y="387.40" width="113.7" height="5.4" fill="#b3b3b3"/>
<rect x="51.2" y="400.00" width="220.2" height="5.4" fill="#b3b3b3"/>
<rect x="271.4" y="400.00" width="167.6" height="5.4" fill="#000"/>
<rect x="51.2" y="412.40" width="220.2" height="5.4" fill="#b3b3b3"/>
<rect x="271.4" y="412.40" width="167.6" height="5.4" fill="#000"/>
<rect x="51.2" y="425.00" width="220.2" height="5.4" fill="#b3b3b3"/>
<rect x="271.4" y="425.00" width="167.6" height="5.4" fill="#000"/>
<!-- interval dashed -->
<path d="M271.4 285.5V436.4M325.3 285.7V436.4" stroke="#efcc3c" stroke-width="1.35" stroke-dasharray="4.4 2.4" fill="none"/>
<g font-size="8.3" fill="#111" stroke="#111" stroke-width="0.22">
<text x="239.3" y="447.4" textLength="46.4" lengthAdjust="spacingAndGlyphs">17,747,353 bp</text>
<text x="310.8" y="447.4" textLength="45.9" lengthAdjust="spacingAndGlyphs">18,185,825 bp</text>
</g>
<path d="M271.4 449.3V454.5Q271.4 456.6 273.5 456.6H323.2Q325.3 456.6 325.3 454.5V449.3M298.5 456.6V463.8" stroke="#1c1c1c" stroke-width="1.1" fill="none"/>
<text x="282.4" y="478.8" font-size="9.8" fill="#2a2a2a" stroke="#2a2a2a" stroke-width="0.12">0.44Mb</text>
<!-- table -->
<path d="M443.7 292.6H542" stroke="#222" stroke-width="0.95" fill="none"/>
<path d="M443.7 307.8H542" stroke="#1c1c1c" stroke-width="1.25" fill="none"/>
<path d="M443.7 434.5H542" stroke="#222" stroke-width="0.9" fill="none"/>
<text x="467.8" y="301.5" font-size="6.4" text-anchor="middle" fill="#2e2e2e" stroke="#2e2e2e" stroke-width="0.1">ID</text>
<text x="517.1" y="301.5" font-size="6.4" text-anchor="middle" fill="#2e2e2e" stroke="#2e2e2e" stroke-width="0.1">FV</text>
<text x="467.8" y="316.9" font-size="6.4" text-anchor="middle" fill="#2e2e2e" stroke="#2e2e2e" stroke-width="0.1">H28</text>
<text x="517.9" y="316.9" font-size="6.4" text-anchor="middle" fill="#2e2e2e" stroke="#2e2e2e" stroke-width="0.1">61</text>
<text x="467.8" y="329.4" font-size="6.4" text-anchor="middle" fill="#2e2e2e" stroke="#2e2e2e" stroke-width="0.1">H17</text>
<text x="517.9" y="329.4" font-size="6.4" text-anchor="middle" fill="#2e2e2e" stroke="#2e2e2e" stroke-width="0.1">2,935</text>
<text x="467.8" y="341.8" font-size="6.4" text-anchor="middle" fill="#2e2e2e" stroke="#2e2e2e" stroke-width="0.1">F1</text>
<text x="517.9" y="341.8" font-size="6.4" text-anchor="middle" fill="#2e2e2e" stroke="#2e2e2e" stroke-width="0.1">1,024</text>
<text x="467.8" y="354.3" font-size="6.4" text-anchor="middle" fill="#2e2e2e" stroke="#2e2e2e" stroke-width="0.1">B-41</text>
<text x="517.9" y="354.3" font-size="6.4" text-anchor="middle" fill="#2e2e2e" stroke="#2e2e2e" stroke-width="0.1">60</text>
<text x="467.8" y="366.2" font-size="6.4" text-anchor="middle" fill="#2e2e2e" stroke="#2e2e2e" stroke-width="0.1">F-29</text>
<text x="517.9" y="366.2" font-size="6.4" text-anchor="middle" fill="#2e2e2e" stroke="#2e2e2e" stroke-width="0.1">90</text>
<text x="467.8" y="378.5" font-size="6.4" text-anchor="middle" fill="#2e2e2e" stroke="#2e2e2e" stroke-width="0.1">E-56</text>
<text x="517.9" y="378.5" font-size="6.4" text-anchor="middle" fill="#2e2e2e" stroke="#2e2e2e" stroke-width="0.1">106</text>
<text x="467.8" y="391.0" font-size="6.4" text-anchor="middle" fill="#2e2e2e" stroke="#2e2e2e" stroke-width="0.1">C-22</text>
<text x="517.9" y="391.0" font-size="6.4" text-anchor="middle" fill="#2e2e2e" stroke="#2e2e2e" stroke-width="0.1">128</text>
<text x="467.8" y="403.4" font-size="6.4" text-anchor="middle" fill="#2e2e2e" stroke="#2e2e2e" stroke-width="0.1">B-56</text>
<text x="517.9" y="403.4" font-size="6.4" text-anchor="middle" fill="#2e2e2e" stroke="#2e2e2e" stroke-width="0.1">215</text>
<text x="467.8" y="415.9" font-size="6.4" text-anchor="middle" fill="#2e2e2e" stroke="#2e2e2e" stroke-width="0.1">F-18</text>
<text x="517.9" y="415.9" font-size="6.4" text-anchor="middle" fill="#2e2e2e" stroke="#2e2e2e" stroke-width="0.1">240</text>
<text x="467.8" y="429.4" font-size="6.4" text-anchor="middle" fill="#2e2e2e" stroke="#2e2e2e" stroke-width="0.1">A-76</text>
<text x="517.9" y="429.4" font-size="6.4" text-anchor="middle" fill="#2e2e2e" stroke="#2e2e2e" stroke-width="0.1">293</text>
</svg>
</body></html>
